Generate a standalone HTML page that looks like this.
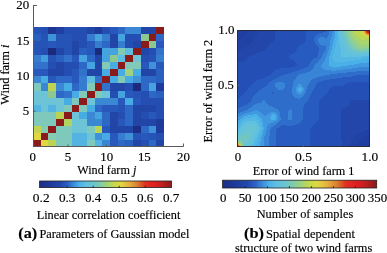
<!DOCTYPE html><html><head><meta charset="utf-8"><style>html,body{margin:0;padding:0;background:#fff;}body{width:387px;height:253px;overflow:hidden;}svg{display:block;}text{font-family:"Liberation Serif","Times New Roman",serif;fill:#000;stroke:#000;stroke-width:0.15px;}</style></head><body>
<svg width="387" height="253" viewBox="0 0 387 253">
<g shape-rendering="crispEdges">
<rect x="33.00" y="27.00" width="8.11" height="7.46" fill="#2653b6"/>
<rect x="40.71" y="27.00" width="8.11" height="7.46" fill="#244eb2"/>
<rect x="48.41" y="27.00" width="8.11" height="7.46" fill="#1d3591"/>
<rect x="56.12" y="27.00" width="8.11" height="7.46" fill="#1f40a2"/>
<rect x="63.82" y="27.00" width="8.11" height="7.46" fill="#244eb2"/>
<rect x="71.53" y="27.00" width="8.11" height="7.46" fill="#244eb2"/>
<rect x="79.24" y="27.00" width="8.11" height="7.46" fill="#244eb2"/>
<rect x="86.94" y="27.00" width="8.11" height="7.46" fill="#2146a8"/>
<rect x="94.65" y="27.00" width="8.11" height="7.46" fill="#1e3a9c"/>
<rect x="102.35" y="27.00" width="8.11" height="7.46" fill="#244eb2"/>
<rect x="110.06" y="27.00" width="8.11" height="7.46" fill="#2858bb"/>
<rect x="117.76" y="27.00" width="8.11" height="7.46" fill="#2d68c6"/>
<rect x="125.47" y="27.00" width="8.11" height="7.46" fill="#3a87d4"/>
<rect x="133.18" y="27.00" width="8.11" height="7.46" fill="#3a87d4"/>
<rect x="140.88" y="27.00" width="8.11" height="7.46" fill="#2146a8"/>
<rect x="148.59" y="27.00" width="8.11" height="7.46" fill="#2146a8"/>
<rect x="156.29" y="27.00" width="8.11" height="7.46" fill="#8b1a1a"/>
<rect x="33.00" y="34.06" width="8.11" height="7.46" fill="#2a60c0"/>
<rect x="40.71" y="34.06" width="8.11" height="7.46" fill="#2653b6"/>
<rect x="48.41" y="34.06" width="8.11" height="7.46" fill="#3f92d8"/>
<rect x="56.12" y="34.06" width="8.11" height="7.46" fill="#2653b6"/>
<rect x="63.82" y="34.06" width="8.11" height="7.46" fill="#2653b6"/>
<rect x="71.53" y="34.06" width="8.11" height="7.46" fill="#244eb2"/>
<rect x="79.24" y="34.06" width="8.11" height="7.46" fill="#244eb2"/>
<rect x="86.94" y="34.06" width="8.11" height="7.46" fill="#367ccf"/>
<rect x="94.65" y="34.06" width="8.11" height="7.46" fill="#45a3e0"/>
<rect x="102.35" y="34.06" width="8.11" height="7.46" fill="#367ccf"/>
<rect x="110.06" y="34.06" width="8.11" height="7.46" fill="#2146a8"/>
<rect x="117.76" y="34.06" width="8.11" height="7.46" fill="#45a3e0"/>
<rect x="125.47" y="34.06" width="8.11" height="7.46" fill="#244eb2"/>
<rect x="133.18" y="34.06" width="8.11" height="7.46" fill="#244eb2"/>
<rect x="140.88" y="34.06" width="8.11" height="7.46" fill="#8cc890"/>
<rect x="148.59" y="34.06" width="8.11" height="7.46" fill="#8b1a1a"/>
<rect x="156.29" y="34.06" width="8.11" height="7.46" fill="#2d68c6"/>
<rect x="33.00" y="41.12" width="8.11" height="7.46" fill="#2653b6"/>
<rect x="40.71" y="41.12" width="8.11" height="7.46" fill="#2653b6"/>
<rect x="48.41" y="41.12" width="8.11" height="7.46" fill="#2858bb"/>
<rect x="56.12" y="41.12" width="8.11" height="7.46" fill="#2653b6"/>
<rect x="63.82" y="41.12" width="8.11" height="7.46" fill="#2653b6"/>
<rect x="71.53" y="41.12" width="8.11" height="7.46" fill="#2146a8"/>
<rect x="79.24" y="41.12" width="8.11" height="7.46" fill="#244eb2"/>
<rect x="86.94" y="41.12" width="8.11" height="7.46" fill="#2858bb"/>
<rect x="94.65" y="41.12" width="8.11" height="7.46" fill="#367ccf"/>
<rect x="102.35" y="41.12" width="8.11" height="7.46" fill="#2d68c6"/>
<rect x="110.06" y="41.12" width="8.11" height="7.46" fill="#2146a8"/>
<rect x="117.76" y="41.12" width="8.11" height="7.46" fill="#367ccf"/>
<rect x="125.47" y="41.12" width="8.11" height="7.46" fill="#244eb2"/>
<rect x="133.18" y="41.12" width="8.11" height="7.46" fill="#2146a8"/>
<rect x="140.88" y="41.12" width="8.11" height="7.46" fill="#8b1a1a"/>
<rect x="148.59" y="41.12" width="8.11" height="7.46" fill="#8cc890"/>
<rect x="156.29" y="41.12" width="8.11" height="7.46" fill="#2858bb"/>
<rect x="33.00" y="48.18" width="8.11" height="7.46" fill="#2653b6"/>
<rect x="40.71" y="48.18" width="8.11" height="7.46" fill="#244eb2"/>
<rect x="48.41" y="48.18" width="8.11" height="7.46" fill="#1a2a7c"/>
<rect x="56.12" y="48.18" width="8.11" height="7.46" fill="#2146a8"/>
<rect x="63.82" y="48.18" width="8.11" height="7.46" fill="#2653b6"/>
<rect x="71.53" y="48.18" width="8.11" height="7.46" fill="#2146a8"/>
<rect x="79.24" y="48.18" width="8.11" height="7.46" fill="#2a60c0"/>
<rect x="86.94" y="48.18" width="8.11" height="7.46" fill="#2858bb"/>
<rect x="94.65" y="48.18" width="8.11" height="7.46" fill="#1a2a7c"/>
<rect x="102.35" y="48.18" width="8.11" height="7.46" fill="#45a3e0"/>
<rect x="110.06" y="48.18" width="8.11" height="7.46" fill="#45a3e0"/>
<rect x="117.76" y="48.18" width="8.11" height="7.46" fill="#82cab6"/>
<rect x="125.47" y="48.18" width="8.11" height="7.46" fill="#5ebcde"/>
<rect x="133.18" y="48.18" width="8.11" height="7.46" fill="#8b1a1a"/>
<rect x="140.88" y="48.18" width="8.11" height="7.46" fill="#2146a8"/>
<rect x="148.59" y="48.18" width="8.11" height="7.46" fill="#244eb2"/>
<rect x="156.29" y="48.18" width="8.11" height="7.46" fill="#3272ca"/>
<rect x="33.00" y="55.24" width="8.11" height="7.46" fill="#367ccf"/>
<rect x="40.71" y="55.24" width="8.11" height="7.46" fill="#429bdc"/>
<rect x="48.41" y="55.24" width="8.11" height="7.46" fill="#2653b6"/>
<rect x="56.12" y="55.24" width="8.11" height="7.46" fill="#2a60c0"/>
<rect x="63.82" y="55.24" width="8.11" height="7.46" fill="#3272ca"/>
<rect x="71.53" y="55.24" width="8.11" height="7.46" fill="#2858bb"/>
<rect x="79.24" y="55.24" width="8.11" height="7.46" fill="#45a3e0"/>
<rect x="86.94" y="55.24" width="8.11" height="7.46" fill="#2d68c6"/>
<rect x="94.65" y="55.24" width="8.11" height="7.46" fill="#2146a8"/>
<rect x="102.35" y="55.24" width="8.11" height="7.46" fill="#45a3e0"/>
<rect x="110.06" y="55.24" width="8.11" height="7.46" fill="#8cc890"/>
<rect x="117.76" y="55.24" width="8.11" height="7.46" fill="#5ebcde"/>
<rect x="125.47" y="55.24" width="8.11" height="7.46" fill="#8b1a1a"/>
<rect x="133.18" y="55.24" width="8.11" height="7.46" fill="#6cc4d6"/>
<rect x="140.88" y="55.24" width="8.11" height="7.46" fill="#244eb2"/>
<rect x="148.59" y="55.24" width="8.11" height="7.46" fill="#2653b6"/>
<rect x="156.29" y="55.24" width="8.11" height="7.46" fill="#367ccf"/>
<rect x="33.00" y="62.29" width="8.11" height="7.46" fill="#3272ca"/>
<rect x="40.71" y="62.29" width="8.11" height="7.46" fill="#3272ca"/>
<rect x="48.41" y="62.29" width="8.11" height="7.46" fill="#244eb2"/>
<rect x="56.12" y="62.29" width="8.11" height="7.46" fill="#2146a8"/>
<rect x="63.82" y="62.29" width="8.11" height="7.46" fill="#244eb2"/>
<rect x="71.53" y="62.29" width="8.11" height="7.46" fill="#244eb2"/>
<rect x="79.24" y="62.29" width="8.11" height="7.46" fill="#2d68c6"/>
<rect x="86.94" y="62.29" width="8.11" height="7.46" fill="#45a3e0"/>
<rect x="94.65" y="62.29" width="8.11" height="7.46" fill="#2146a8"/>
<rect x="102.35" y="62.29" width="8.11" height="7.46" fill="#82cab6"/>
<rect x="110.06" y="62.29" width="8.11" height="7.46" fill="#48ace4"/>
<rect x="117.76" y="62.29" width="8.11" height="7.46" fill="#8b1a1a"/>
<rect x="125.47" y="62.29" width="8.11" height="7.46" fill="#7ec8bc"/>
<rect x="133.18" y="62.29" width="8.11" height="7.46" fill="#82cab6"/>
<rect x="140.88" y="62.29" width="8.11" height="7.46" fill="#2858bb"/>
<rect x="148.59" y="62.29" width="8.11" height="7.46" fill="#3f92d8"/>
<rect x="156.29" y="62.29" width="8.11" height="7.46" fill="#2858bb"/>
<rect x="33.00" y="69.35" width="8.11" height="7.46" fill="#2858bb"/>
<rect x="40.71" y="69.35" width="8.11" height="7.46" fill="#2858bb"/>
<rect x="48.41" y="69.35" width="8.11" height="7.46" fill="#2146a8"/>
<rect x="56.12" y="69.35" width="8.11" height="7.46" fill="#2146a8"/>
<rect x="63.82" y="69.35" width="8.11" height="7.46" fill="#244eb2"/>
<rect x="71.53" y="69.35" width="8.11" height="7.46" fill="#2858bb"/>
<rect x="79.24" y="69.35" width="8.11" height="7.46" fill="#3272ca"/>
<rect x="86.94" y="69.35" width="8.11" height="7.46" fill="#2146a8"/>
<rect x="94.65" y="69.35" width="8.11" height="7.46" fill="#2146a8"/>
<rect x="102.35" y="69.35" width="8.11" height="7.46" fill="#48ace4"/>
<rect x="110.06" y="69.35" width="8.11" height="7.46" fill="#8b1a1a"/>
<rect x="117.76" y="69.35" width="8.11" height="7.46" fill="#48ace4"/>
<rect x="125.47" y="69.35" width="8.11" height="7.46" fill="#a0d080"/>
<rect x="133.18" y="69.35" width="8.11" height="7.46" fill="#48ace4"/>
<rect x="140.88" y="69.35" width="8.11" height="7.46" fill="#2146a8"/>
<rect x="148.59" y="69.35" width="8.11" height="7.46" fill="#2146a8"/>
<rect x="156.29" y="69.35" width="8.11" height="7.46" fill="#2a60c0"/>
<rect x="33.00" y="76.41" width="8.11" height="7.46" fill="#3a87d4"/>
<rect x="40.71" y="76.41" width="8.11" height="7.46" fill="#48ace4"/>
<rect x="48.41" y="76.41" width="8.11" height="7.46" fill="#2858bb"/>
<rect x="56.12" y="76.41" width="8.11" height="7.46" fill="#2d68c6"/>
<rect x="63.82" y="76.41" width="8.11" height="7.46" fill="#2d68c6"/>
<rect x="71.53" y="76.41" width="8.11" height="7.46" fill="#2858bb"/>
<rect x="79.24" y="76.41" width="8.11" height="7.46" fill="#367ccf"/>
<rect x="86.94" y="76.41" width="8.11" height="7.46" fill="#5ebcde"/>
<rect x="94.65" y="76.41" width="8.11" height="7.46" fill="#3272ca"/>
<rect x="102.35" y="76.41" width="8.11" height="7.46" fill="#8b1a1a"/>
<rect x="110.06" y="76.41" width="8.11" height="7.46" fill="#48ace4"/>
<rect x="117.76" y="76.41" width="8.11" height="7.46" fill="#82cab6"/>
<rect x="125.47" y="76.41" width="8.11" height="7.46" fill="#48ace4"/>
<rect x="133.18" y="76.41" width="8.11" height="7.46" fill="#3f92d8"/>
<rect x="140.88" y="76.41" width="8.11" height="7.46" fill="#2d68c6"/>
<rect x="148.59" y="76.41" width="8.11" height="7.46" fill="#2d68c6"/>
<rect x="156.29" y="76.41" width="8.11" height="7.46" fill="#2a60c0"/>
<rect x="33.00" y="83.47" width="8.11" height="7.46" fill="#7ec8bc"/>
<rect x="40.71" y="83.47" width="8.11" height="7.46" fill="#3a87d4"/>
<rect x="48.41" y="83.47" width="8.11" height="7.46" fill="#bdd451"/>
<rect x="56.12" y="83.47" width="8.11" height="7.46" fill="#3a87d4"/>
<rect x="63.82" y="83.47" width="8.11" height="7.46" fill="#48ace4"/>
<rect x="71.53" y="83.47" width="8.11" height="7.46" fill="#2d68c6"/>
<rect x="79.24" y="83.47" width="8.11" height="7.46" fill="#367ccf"/>
<rect x="86.94" y="83.47" width="8.11" height="7.46" fill="#82cab6"/>
<rect x="94.65" y="83.47" width="8.11" height="7.46" fill="#8b1a1a"/>
<rect x="102.35" y="83.47" width="8.11" height="7.46" fill="#3272ca"/>
<rect x="110.06" y="83.47" width="8.11" height="7.46" fill="#2146a8"/>
<rect x="117.76" y="83.47" width="8.11" height="7.46" fill="#2146a8"/>
<rect x="125.47" y="83.47" width="8.11" height="7.46" fill="#244eb2"/>
<rect x="133.18" y="83.47" width="8.11" height="7.46" fill="#1a2a7c"/>
<rect x="140.88" y="83.47" width="8.11" height="7.46" fill="#2d68c6"/>
<rect x="148.59" y="83.47" width="8.11" height="7.46" fill="#45a3e0"/>
<rect x="156.29" y="83.47" width="8.11" height="7.46" fill="#1e3a9c"/>
<rect x="33.00" y="90.53" width="8.11" height="7.46" fill="#6cc4d6"/>
<rect x="40.71" y="90.53" width="8.11" height="7.46" fill="#6cc4d6"/>
<rect x="48.41" y="90.53" width="8.11" height="7.46" fill="#8cc890"/>
<rect x="56.12" y="90.53" width="8.11" height="7.46" fill="#2d68c6"/>
<rect x="63.82" y="90.53" width="8.11" height="7.46" fill="#3272ca"/>
<rect x="71.53" y="90.53" width="8.11" height="7.46" fill="#48ace4"/>
<rect x="79.24" y="90.53" width="8.11" height="7.46" fill="#82cab6"/>
<rect x="86.94" y="90.53" width="8.11" height="7.46" fill="#8b1a1a"/>
<rect x="94.65" y="90.53" width="8.11" height="7.46" fill="#82cab6"/>
<rect x="102.35" y="90.53" width="8.11" height="7.46" fill="#6cc4d6"/>
<rect x="110.06" y="90.53" width="8.11" height="7.46" fill="#244eb2"/>
<rect x="117.76" y="90.53" width="8.11" height="7.46" fill="#45a3e0"/>
<rect x="125.47" y="90.53" width="8.11" height="7.46" fill="#2858bb"/>
<rect x="133.18" y="90.53" width="8.11" height="7.46" fill="#2653b6"/>
<rect x="140.88" y="90.53" width="8.11" height="7.46" fill="#244eb2"/>
<rect x="148.59" y="90.53" width="8.11" height="7.46" fill="#2d68c6"/>
<rect x="156.29" y="90.53" width="8.11" height="7.46" fill="#2a60c0"/>
<rect x="33.00" y="97.59" width="8.11" height="7.46" fill="#6cc4d6"/>
<rect x="40.71" y="97.59" width="8.11" height="7.46" fill="#6cc4d6"/>
<rect x="48.41" y="97.59" width="8.11" height="7.46" fill="#6cc4d6"/>
<rect x="56.12" y="97.59" width="8.11" height="7.46" fill="#6cc4d6"/>
<rect x="63.82" y="97.59" width="8.11" height="7.46" fill="#48ace4"/>
<rect x="71.53" y="97.59" width="8.11" height="7.46" fill="#7ec8bc"/>
<rect x="79.24" y="97.59" width="8.11" height="7.46" fill="#8b1a1a"/>
<rect x="86.94" y="97.59" width="8.11" height="7.46" fill="#6cc4d6"/>
<rect x="94.65" y="97.59" width="8.11" height="7.46" fill="#3a87d4"/>
<rect x="102.35" y="97.59" width="8.11" height="7.46" fill="#3a87d4"/>
<rect x="110.06" y="97.59" width="8.11" height="7.46" fill="#3a87d4"/>
<rect x="117.76" y="97.59" width="8.11" height="7.46" fill="#2858bb"/>
<rect x="125.47" y="97.59" width="8.11" height="7.46" fill="#48ace4"/>
<rect x="133.18" y="97.59" width="8.11" height="7.46" fill="#2858bb"/>
<rect x="140.88" y="97.59" width="8.11" height="7.46" fill="#244eb2"/>
<rect x="148.59" y="97.59" width="8.11" height="7.46" fill="#244eb2"/>
<rect x="156.29" y="97.59" width="8.11" height="7.46" fill="#244eb2"/>
<rect x="33.00" y="104.65" width="8.11" height="7.46" fill="#53b4e1"/>
<rect x="40.71" y="104.65" width="8.11" height="7.46" fill="#6cc4d6"/>
<rect x="48.41" y="104.65" width="8.11" height="7.46" fill="#53b4e1"/>
<rect x="56.12" y="104.65" width="8.11" height="7.46" fill="#6cc4d6"/>
<rect x="63.82" y="104.65" width="8.11" height="7.46" fill="#7ec8bc"/>
<rect x="71.53" y="104.65" width="8.11" height="7.46" fill="#8b1a1a"/>
<rect x="79.24" y="104.65" width="8.11" height="7.46" fill="#7ec8bc"/>
<rect x="86.94" y="104.65" width="8.11" height="7.46" fill="#48ace4"/>
<rect x="94.65" y="104.65" width="8.11" height="7.46" fill="#2d68c6"/>
<rect x="102.35" y="104.65" width="8.11" height="7.46" fill="#2858bb"/>
<rect x="110.06" y="104.65" width="8.11" height="7.46" fill="#2858bb"/>
<rect x="117.76" y="104.65" width="8.11" height="7.46" fill="#2653b6"/>
<rect x="125.47" y="104.65" width="8.11" height="7.46" fill="#2d68c6"/>
<rect x="133.18" y="104.65" width="8.11" height="7.46" fill="#2146a8"/>
<rect x="140.88" y="104.65" width="8.11" height="7.46" fill="#2146a8"/>
<rect x="148.59" y="104.65" width="8.11" height="7.46" fill="#2146a8"/>
<rect x="156.29" y="104.65" width="8.11" height="7.46" fill="#244eb2"/>
<rect x="33.00" y="111.71" width="8.11" height="7.46" fill="#7ec8bc"/>
<rect x="40.71" y="111.71" width="8.11" height="7.46" fill="#7ec8bc"/>
<rect x="48.41" y="111.71" width="8.11" height="7.46" fill="#7ec8bc"/>
<rect x="56.12" y="111.71" width="8.11" height="7.46" fill="#b8d450"/>
<rect x="63.82" y="111.71" width="8.11" height="7.46" fill="#8b1a1a"/>
<rect x="71.53" y="111.71" width="8.11" height="7.46" fill="#6cc4d6"/>
<rect x="79.24" y="111.71" width="8.11" height="7.46" fill="#48ace4"/>
<rect x="86.94" y="111.71" width="8.11" height="7.46" fill="#3a87d4"/>
<rect x="94.65" y="111.71" width="8.11" height="7.46" fill="#45a3e0"/>
<rect x="102.35" y="111.71" width="8.11" height="7.46" fill="#2d68c6"/>
<rect x="110.06" y="111.71" width="8.11" height="7.46" fill="#2146a8"/>
<rect x="117.76" y="111.71" width="8.11" height="7.46" fill="#244eb2"/>
<rect x="125.47" y="111.71" width="8.11" height="7.46" fill="#2d68c6"/>
<rect x="133.18" y="111.71" width="8.11" height="7.46" fill="#2146a8"/>
<rect x="140.88" y="111.71" width="8.11" height="7.46" fill="#244eb2"/>
<rect x="148.59" y="111.71" width="8.11" height="7.46" fill="#2858bb"/>
<rect x="156.29" y="111.71" width="8.11" height="7.46" fill="#244eb2"/>
<rect x="33.00" y="118.76" width="8.11" height="7.46" fill="#7ec8bc"/>
<rect x="40.71" y="118.76" width="8.11" height="7.46" fill="#7ec8bc"/>
<rect x="48.41" y="118.76" width="8.11" height="7.46" fill="#7ec8bc"/>
<rect x="56.12" y="118.76" width="8.11" height="7.46" fill="#8b1a1a"/>
<rect x="63.82" y="118.76" width="8.11" height="7.46" fill="#b0d360"/>
<rect x="71.53" y="118.76" width="8.11" height="7.46" fill="#6cc4d6"/>
<rect x="79.24" y="118.76" width="8.11" height="7.46" fill="#6cc4d6"/>
<rect x="86.94" y="118.76" width="8.11" height="7.46" fill="#3a87d4"/>
<rect x="94.65" y="118.76" width="8.11" height="7.46" fill="#3a87d4"/>
<rect x="102.35" y="118.76" width="8.11" height="7.46" fill="#2d68c6"/>
<rect x="110.06" y="118.76" width="8.11" height="7.46" fill="#2146a8"/>
<rect x="117.76" y="118.76" width="8.11" height="7.46" fill="#2858bb"/>
<rect x="125.47" y="118.76" width="8.11" height="7.46" fill="#2d68c6"/>
<rect x="133.18" y="118.76" width="8.11" height="7.46" fill="#2146a8"/>
<rect x="140.88" y="118.76" width="8.11" height="7.46" fill="#2146a8"/>
<rect x="148.59" y="118.76" width="8.11" height="7.46" fill="#2146a8"/>
<rect x="156.29" y="118.76" width="8.11" height="7.46" fill="#1e3a9c"/>
<rect x="33.00" y="125.82" width="8.11" height="7.46" fill="#c2d452"/>
<rect x="40.71" y="125.82" width="8.11" height="7.46" fill="#86ccb0"/>
<rect x="48.41" y="125.82" width="8.11" height="7.46" fill="#8b1a1a"/>
<rect x="56.12" y="125.82" width="8.11" height="7.46" fill="#7ec8bc"/>
<rect x="63.82" y="125.82" width="8.11" height="7.46" fill="#7ec8bc"/>
<rect x="71.53" y="125.82" width="8.11" height="7.46" fill="#6cc4d6"/>
<rect x="79.24" y="125.82" width="8.11" height="7.46" fill="#6cc4d6"/>
<rect x="86.94" y="125.82" width="8.11" height="7.46" fill="#7ec8bc"/>
<rect x="94.65" y="125.82" width="8.11" height="7.46" fill="#bdd451"/>
<rect x="102.35" y="125.82" width="8.11" height="7.46" fill="#2858bb"/>
<rect x="110.06" y="125.82" width="8.11" height="7.46" fill="#2146a8"/>
<rect x="117.76" y="125.82" width="8.11" height="7.46" fill="#2146a8"/>
<rect x="125.47" y="125.82" width="8.11" height="7.46" fill="#2146a8"/>
<rect x="133.18" y="125.82" width="8.11" height="7.46" fill="#1b2f87"/>
<rect x="140.88" y="125.82" width="8.11" height="7.46" fill="#2d68c6"/>
<rect x="148.59" y="125.82" width="8.11" height="7.46" fill="#3f92d8"/>
<rect x="156.29" y="125.82" width="8.11" height="7.46" fill="#1e3a9c"/>
<rect x="33.00" y="132.88" width="8.11" height="7.46" fill="#e0d840"/>
<rect x="40.71" y="132.88" width="8.11" height="7.46" fill="#8b1a1a"/>
<rect x="48.41" y="132.88" width="8.11" height="7.46" fill="#86ccb0"/>
<rect x="56.12" y="132.88" width="8.11" height="7.46" fill="#7ec8bc"/>
<rect x="63.82" y="132.88" width="8.11" height="7.46" fill="#7ec8bc"/>
<rect x="71.53" y="132.88" width="8.11" height="7.46" fill="#53b4e1"/>
<rect x="79.24" y="132.88" width="8.11" height="7.46" fill="#53b4e1"/>
<rect x="86.94" y="132.88" width="8.11" height="7.46" fill="#6cc4d6"/>
<rect x="94.65" y="132.88" width="8.11" height="7.46" fill="#3f92d8"/>
<rect x="102.35" y="132.88" width="8.11" height="7.46" fill="#48ace4"/>
<rect x="110.06" y="132.88" width="8.11" height="7.46" fill="#2858bb"/>
<rect x="117.76" y="132.88" width="8.11" height="7.46" fill="#367ccf"/>
<rect x="125.47" y="132.88" width="8.11" height="7.46" fill="#3f92d8"/>
<rect x="133.18" y="132.88" width="8.11" height="7.46" fill="#2653b6"/>
<rect x="140.88" y="132.88" width="8.11" height="7.46" fill="#2858bb"/>
<rect x="148.59" y="132.88" width="8.11" height="7.46" fill="#2653b6"/>
<rect x="156.29" y="132.88" width="8.11" height="7.46" fill="#244eb2"/>
<rect x="33.00" y="139.94" width="8.11" height="7.46" fill="#8b1a1a"/>
<rect x="40.71" y="139.94" width="8.11" height="7.46" fill="#e0d840"/>
<rect x="48.41" y="139.94" width="8.11" height="7.46" fill="#bdd451"/>
<rect x="56.12" y="139.94" width="8.11" height="7.46" fill="#7ec8bc"/>
<rect x="63.82" y="139.94" width="8.11" height="7.46" fill="#7ec8bc"/>
<rect x="71.53" y="139.94" width="8.11" height="7.46" fill="#53b4e1"/>
<rect x="79.24" y="139.94" width="8.11" height="7.46" fill="#53b4e1"/>
<rect x="86.94" y="139.94" width="8.11" height="7.46" fill="#7ec8bc"/>
<rect x="94.65" y="139.94" width="8.11" height="7.46" fill="#53b4e1"/>
<rect x="102.35" y="139.94" width="8.11" height="7.46" fill="#3a87d4"/>
<rect x="110.06" y="139.94" width="8.11" height="7.46" fill="#2858bb"/>
<rect x="117.76" y="139.94" width="8.11" height="7.46" fill="#2d68c6"/>
<rect x="125.47" y="139.94" width="8.11" height="7.46" fill="#2a60c0"/>
<rect x="133.18" y="139.94" width="8.11" height="7.46" fill="#2146a8"/>
<rect x="140.88" y="139.94" width="8.11" height="7.46" fill="#244eb2"/>
<rect x="148.59" y="139.94" width="8.11" height="7.46" fill="#2d68c6"/>
<rect x="156.29" y="139.94" width="8.11" height="7.46" fill="#2146a8"/>
</g>
<path d="M33.5 5V146.5H183.5" fill="none" stroke="#5a5a5a" stroke-width="1"/>
<path d="M33.5 5.5H37 M183.5 146.5V143.5 M68 146.5V144.5 M106.5 146.5V144.5 M145 146.5V144.5 M33.5 40.5H35.5 M33.5 75.8H35.5 M33.5 111.4H35.5" fill="none" stroke="#5a5a5a" stroke-width="1"/>
<text x="16.27" y="9.00" font-size="12.9">20</text>
<text x="16.58" y="44.50" font-size="12.9">15</text>
<text x="16.58" y="80.00" font-size="12.9">10</text>
<text x="22.75" y="114.90" font-size="12.9">5</text>
<text x="29.52" y="160.80" font-size="12.9">0</text>
<text x="64.80" y="160.80" font-size="12.9">5</text>
<text x="100.33" y="160.80" font-size="12.9">10</text>
<text x="137.88" y="160.80" font-size="12.9">15</text>
<text x="176.97" y="160.80" font-size="12.9">20</text>
<text x="77.20" y="174.00" font-size="12.9" textLength="59.17" lengthAdjust="spacingAndGlyphs">Wind farm <tspan font-style="italic">j</tspan></text>
<text transform="translate(9.00,104.70) rotate(-90)" font-size="12.9" textLength="60.10" lengthAdjust="spacingAndGlyphs">Wind farm <tspan font-style="italic">i</tspan></text>
<defs><linearGradient id="cbg" x1="0" y1="0" x2="1" y2="0"><stop offset="0.000" stop-color="#1c2f85"/><stop offset="0.080" stop-color="#1f3a9c"/><stop offset="0.160" stop-color="#2248ac"/><stop offset="0.210" stop-color="#2a60c5"/><stop offset="0.255" stop-color="#3a88d8"/><stop offset="0.300" stop-color="#4ab0e8"/><stop offset="0.350" stop-color="#60c0e0"/><stop offset="0.400" stop-color="#68c4d4"/><stop offset="0.440" stop-color="#78c8b8"/><stop offset="0.490" stop-color="#90d090"/><stop offset="0.553" stop-color="#c0d850"/><stop offset="0.616" stop-color="#e0d840"/><stop offset="0.678" stop-color="#e8b040"/><stop offset="0.740" stop-color="#d88030"/><stop offset="0.800" stop-color="#e03020"/><stop offset="0.867" stop-color="#e02020"/><stop offset="0.928" stop-color="#c02020"/><stop offset="1.000" stop-color="#8a1818"/></linearGradient></defs>
<rect x="39.6" y="181.0" width="131.9" height="6.6" fill="url(#cbg)"/>
<rect x="39.6" y="181.0" width="131.9" height="6.6" fill="none" stroke="#222" stroke-width="0.8"/>
<path d="M67.2 187.6v-1.8" stroke="#222" stroke-width="0.9"/>
<path d="M93.2 187.6v-1.8" stroke="#222" stroke-width="0.9"/>
<path d="M119.2 187.6v-1.8" stroke="#222" stroke-width="0.9"/>
<path d="M145.3 187.6v-1.8" stroke="#222" stroke-width="0.9"/>
<text x="32.86" y="201.70" font-size="12.9" textLength="16.77" lengthAdjust="spacingAndGlyphs">0.2</text>
<text x="58.90" y="201.70" font-size="12.9" textLength="16.56" lengthAdjust="spacingAndGlyphs">0.3</text>
<text x="84.94" y="201.70" font-size="12.9" textLength="16.21" lengthAdjust="spacingAndGlyphs">0.4</text>
<text x="110.96" y="201.70" font-size="12.9" textLength="16.56" lengthAdjust="spacingAndGlyphs">0.5</text>
<text x="136.99" y="201.70" font-size="12.9" textLength="16.42" lengthAdjust="spacingAndGlyphs">0.6</text>
<text x="163.02" y="201.70" font-size="12.9" textLength="16.42" lengthAdjust="spacingAndGlyphs">0.7</text>
<text x="36.63" y="218.50" font-size="12.9" textLength="143.76" lengthAdjust="spacingAndGlyphs">Linear correlation coefficient</text>
<text x="18.27" y="238.00" font-size="15.0" font-weight="bold" textLength="18.90" lengthAdjust="spacingAndGlyphs">(a)</text>
<text x="39.43" y="237.60" font-size="12.9" textLength="149.96" lengthAdjust="spacingAndGlyphs">Parameters of Gaussian model</text>
<svg x="237.5" y="30.4" width="131.5" height="116.6" viewBox="0 0 131.5 116.6" overflow="hidden"><g shape-rendering="crispEdges">
<rect x="0" y="0" width="10.3" height="1.3" fill="#203ea0"/>
<rect x="10" y="0" width="11.3" height="1.3" fill="#2142a5"/>
<rect x="21" y="0" width="16.3" height="1.3" fill="#2246aa"/>
<rect x="37" y="0" width="31.3" height="1.3" fill="#244fb4"/>
<rect x="68" y="0" width="20.3" height="1.3" fill="#285bc0"/>
<rect x="88" y="0" width="4.3" height="1.3" fill="#2f6dcb"/>
<rect x="92" y="0" width="3.3" height="1.3" fill="#3884d6"/>
<rect x="95" y="0" width="2.3" height="1.3" fill="#419adf"/>
<rect x="97" y="0" width="2.3" height="1.3" fill="#4ab0e8"/>
<rect x="99" y="0" width="1.3" height="1.3" fill="#55b8e4"/>
<rect x="100" y="0" width="1.3" height="1.3" fill="#60c0e0"/>
<rect x="101" y="0" width="2.3" height="1.3" fill="#64c2da"/>
<rect x="103" y="0" width="1.3" height="1.3" fill="#68c4d4"/>
<rect x="104" y="0" width="1.3" height="1.3" fill="#72c6c2"/>
<rect x="105" y="0" width="3.3" height="1.3" fill="#7dcab0"/>
<rect x="108" y="0" width="2.3" height="1.3" fill="#89ce9c"/>
<rect x="110" y="0" width="2.3" height="1.3" fill="#98d186"/>
<rect x="112" y="0" width="4.3" height="1.3" fill="#abd46c"/>
<rect x="116" y="0" width="4.3" height="1.3" fill="#bed853"/>
<rect x="120" y="0" width="4.3" height="1.3" fill="#cbd84a"/>
<rect x="124" y="0" width="4.3" height="1.3" fill="#d8d844"/>
<rect x="128" y="0" width="4.3" height="1.3" fill="#e1d240"/>
<rect x="0" y="1" width="9.3" height="1.3" fill="#203ea0"/>
<rect x="9" y="1" width="11.3" height="1.3" fill="#2142a5"/>
<rect x="20" y="1" width="17.3" height="1.3" fill="#2246aa"/>
<rect x="37" y="1" width="31.3" height="1.3" fill="#244fb4"/>
<rect x="68" y="1" width="20.3" height="1.3" fill="#285bc0"/>
<rect x="88" y="1" width="3.3" height="1.3" fill="#2f6dcb"/>
<rect x="91" y="1" width="4.3" height="1.3" fill="#3884d6"/>
<rect x="95" y="1" width="2.3" height="1.3" fill="#419adf"/>
<rect x="97" y="1" width="2.3" height="1.3" fill="#4ab0e8"/>
<rect x="99" y="1" width="1.3" height="1.3" fill="#55b8e4"/>
<rect x="100" y="1" width="1.3" height="1.3" fill="#60c0e0"/>
<rect x="101" y="1" width="2.3" height="1.3" fill="#64c2da"/>
<rect x="103" y="1" width="1.3" height="1.3" fill="#68c4d4"/>
<rect x="104" y="1" width="2.3" height="1.3" fill="#72c6c2"/>
<rect x="106" y="1" width="2.3" height="1.3" fill="#7dcab0"/>
<rect x="108" y="1" width="3.3" height="1.3" fill="#89ce9c"/>
<rect x="111" y="1" width="2.3" height="1.3" fill="#98d186"/>
<rect x="113" y="1" width="3.3" height="1.3" fill="#abd46c"/>
<rect x="116" y="1" width="5.3" height="1.3" fill="#bed853"/>
<rect x="121" y="1" width="4.3" height="1.3" fill="#cbd84a"/>
<rect x="125" y="1" width="5.3" height="1.3" fill="#d8d844"/>
<rect x="130" y="1" width="2.3" height="1.3" fill="#e1d240"/>
<rect x="0" y="2" width="9.3" height="1.3" fill="#203ea0"/>
<rect x="9" y="2" width="11.3" height="1.3" fill="#2142a5"/>
<rect x="20" y="2" width="17.3" height="1.3" fill="#2246aa"/>
<rect x="37" y="2" width="31.3" height="1.3" fill="#244fb4"/>
<rect x="68" y="2" width="17.3" height="1.3" fill="#285bc0"/>
<rect x="85" y="2" width="6.3" height="1.3" fill="#2f6dcb"/>
<rect x="91" y="2" width="4.3" height="1.3" fill="#3884d6"/>
<rect x="95" y="2" width="2.3" height="1.3" fill="#419adf"/>
<rect x="97" y="2" width="2.3" height="1.3" fill="#4ab0e8"/>
<rect x="99" y="2" width="1.3" height="1.3" fill="#55b8e4"/>
<rect x="100" y="2" width="2.3" height="1.3" fill="#60c0e0"/>
<rect x="102" y="2" width="1.3" height="1.3" fill="#64c2da"/>
<rect x="103" y="2" width="2.3" height="1.3" fill="#68c4d4"/>
<rect x="105" y="2" width="1.3" height="1.3" fill="#72c6c2"/>
<rect x="106" y="2" width="3.3" height="1.3" fill="#7dcab0"/>
<rect x="109" y="2" width="2.3" height="1.3" fill="#89ce9c"/>
<rect x="111" y="2" width="2.3" height="1.3" fill="#98d186"/>
<rect x="113" y="2" width="4.3" height="1.3" fill="#abd46c"/>
<rect x="117" y="2" width="5.3" height="1.3" fill="#bed853"/>
<rect x="122" y="2" width="4.3" height="1.3" fill="#cbd84a"/>
<rect x="126" y="2" width="6.3" height="1.3" fill="#d8d844"/>
<rect x="0" y="3" width="8.3" height="1.3" fill="#203ea0"/>
<rect x="8" y="3" width="11.3" height="1.3" fill="#2142a5"/>
<rect x="19" y="3" width="18.3" height="1.3" fill="#2246aa"/>
<rect x="37" y="3" width="31.3" height="1.3" fill="#244fb4"/>
<rect x="68" y="3" width="13.3" height="1.3" fill="#285bc0"/>
<rect x="81" y="3" width="10.3" height="1.3" fill="#2f6dcb"/>
<rect x="91" y="3" width="3.3" height="1.3" fill="#3884d6"/>
<rect x="94" y="3" width="3.3" height="1.3" fill="#419adf"/>
<rect x="97" y="3" width="2.3" height="1.3" fill="#4ab0e8"/>
<rect x="99" y="3" width="1.3" height="1.3" fill="#55b8e4"/>
<rect x="100" y="3" width="2.3" height="1.3" fill="#60c0e0"/>
<rect x="102" y="3" width="1.3" height="1.3" fill="#64c2da"/>
<rect x="103" y="3" width="2.3" height="1.3" fill="#68c4d4"/>
<rect x="105" y="3" width="2.3" height="1.3" fill="#72c6c2"/>
<rect x="107" y="3" width="2.3" height="1.3" fill="#7dcab0"/>
<rect x="109" y="3" width="2.3" height="1.3" fill="#89ce9c"/>
<rect x="111" y="3" width="2.3" height="1.3" fill="#98d186"/>
<rect x="113" y="3" width="5.3" height="1.3" fill="#abd46c"/>
<rect x="118" y="3" width="4.3" height="1.3" fill="#bed853"/>
<rect x="122" y="3" width="6.3" height="1.3" fill="#cbd84a"/>
<rect x="128" y="3" width="4.3" height="1.3" fill="#d8d844"/>
<rect x="0" y="4" width="7.3" height="1.3" fill="#203ea0"/>
<rect x="7" y="4" width="12.3" height="1.3" fill="#2142a5"/>
<rect x="19" y="4" width="18.3" height="1.3" fill="#2246aa"/>
<rect x="37" y="4" width="31.3" height="1.3" fill="#244fb4"/>
<rect x="68" y="4" width="11.3" height="1.3" fill="#285bc0"/>
<rect x="79" y="4" width="12.3" height="1.3" fill="#2f6dcb"/>
<rect x="91" y="4" width="3.3" height="1.3" fill="#3884d6"/>
<rect x="94" y="4" width="3.3" height="1.3" fill="#419adf"/>
<rect x="97" y="4" width="2.3" height="1.3" fill="#4ab0e8"/>
<rect x="99" y="4" width="1.3" height="1.3" fill="#55b8e4"/>
<rect x="100" y="4" width="2.3" height="1.3" fill="#60c0e0"/>
<rect x="102" y="4" width="2.3" height="1.3" fill="#64c2da"/>
<rect x="104" y="4" width="1.3" height="1.3" fill="#68c4d4"/>
<rect x="105" y="4" width="3.3" height="1.3" fill="#72c6c2"/>
<rect x="108" y="4" width="2.3" height="1.3" fill="#7dcab0"/>
<rect x="110" y="4" width="2.3" height="1.3" fill="#89ce9c"/>
<rect x="112" y="4" width="2.3" height="1.3" fill="#98d186"/>
<rect x="114" y="4" width="4.3" height="1.3" fill="#abd46c"/>
<rect x="118" y="4" width="5.3" height="1.3" fill="#bed853"/>
<rect x="123" y="4" width="8.3" height="1.3" fill="#cbd84a"/>
<rect x="131" y="4" width="1.3" height="1.3" fill="#d8d844"/>
<rect x="0" y="5" width="7.3" height="1.3" fill="#203ea0"/>
<rect x="7" y="5" width="11.3" height="1.3" fill="#2142a5"/>
<rect x="18" y="5" width="19.3" height="1.3" fill="#2246aa"/>
<rect x="37" y="5" width="31.3" height="1.3" fill="#244fb4"/>
<rect x="68" y="5" width="10.3" height="1.3" fill="#285bc0"/>
<rect x="78" y="5" width="12.3" height="1.3" fill="#2f6dcb"/>
<rect x="90" y="5" width="4.3" height="1.3" fill="#3884d6"/>
<rect x="94" y="5" width="3.3" height="1.3" fill="#419adf"/>
<rect x="97" y="5" width="2.3" height="1.3" fill="#4ab0e8"/>
<rect x="99" y="5" width="1.3" height="1.3" fill="#55b8e4"/>
<rect x="100" y="5" width="2.3" height="1.3" fill="#60c0e0"/>
<rect x="102" y="5" width="2.3" height="1.3" fill="#64c2da"/>
<rect x="104" y="5" width="2.3" height="1.3" fill="#68c4d4"/>
<rect x="106" y="5" width="2.3" height="1.3" fill="#72c6c2"/>
<rect x="108" y="5" width="2.3" height="1.3" fill="#7dcab0"/>
<rect x="110" y="5" width="2.3" height="1.3" fill="#89ce9c"/>
<rect x="112" y="5" width="2.3" height="1.3" fill="#98d186"/>
<rect x="114" y="5" width="5.3" height="1.3" fill="#abd46c"/>
<rect x="119" y="5" width="6.3" height="1.3" fill="#bed853"/>
<rect x="125" y="5" width="7.3" height="1.3" fill="#cbd84a"/>
<rect x="0" y="6" width="6.3" height="1.3" fill="#203ea0"/>
<rect x="6" y="6" width="12.3" height="1.3" fill="#2142a5"/>
<rect x="18" y="6" width="19.3" height="1.3" fill="#2246aa"/>
<rect x="37" y="6" width="31.3" height="1.3" fill="#244fb4"/>
<rect x="68" y="6" width="9.3" height="1.3" fill="#285bc0"/>
<rect x="77" y="6" width="13.3" height="1.3" fill="#2f6dcb"/>
<rect x="90" y="6" width="4.3" height="1.3" fill="#3884d6"/>
<rect x="94" y="6" width="3.3" height="1.3" fill="#419adf"/>
<rect x="97" y="6" width="2.3" height="1.3" fill="#4ab0e8"/>
<rect x="99" y="6" width="2.3" height="1.3" fill="#55b8e4"/>
<rect x="101" y="6" width="2.3" height="1.3" fill="#60c0e0"/>
<rect x="103" y="6" width="1.3" height="1.3" fill="#64c2da"/>
<rect x="104" y="6" width="2.3" height="1.3" fill="#68c4d4"/>
<rect x="106" y="6" width="2.3" height="1.3" fill="#72c6c2"/>
<rect x="108" y="6" width="2.3" height="1.3" fill="#7dcab0"/>
<rect x="110" y="6" width="2.3" height="1.3" fill="#89ce9c"/>
<rect x="112" y="6" width="3.3" height="1.3" fill="#98d186"/>
<rect x="115" y="6" width="5.3" height="1.3" fill="#abd46c"/>
<rect x="120" y="6" width="9.3" height="1.3" fill="#bed853"/>
<rect x="129" y="6" width="3.3" height="1.3" fill="#cbd84a"/>
<rect x="0" y="7" width="4.3" height="1.3" fill="#203ea0"/>
<rect x="4" y="7" width="13.3" height="1.3" fill="#2142a5"/>
<rect x="17" y="7" width="20.3" height="1.3" fill="#2246aa"/>
<rect x="37" y="7" width="31.3" height="1.3" fill="#244fb4"/>
<rect x="68" y="7" width="9.3" height="1.3" fill="#285bc0"/>
<rect x="77" y="7" width="5.3" height="1.3" fill="#2f6dcb"/>
<rect x="82" y="7" width="4.3" height="1.3" fill="#3884d6"/>
<rect x="86" y="7" width="3.3" height="1.3" fill="#2f6dcb"/>
<rect x="89" y="7" width="4.3" height="1.3" fill="#3884d6"/>
<rect x="93" y="7" width="4.3" height="1.3" fill="#419adf"/>
<rect x="97" y="7" width="2.3" height="1.3" fill="#4ab0e8"/>
<rect x="99" y="7" width="2.3" height="1.3" fill="#55b8e4"/>
<rect x="101" y="7" width="2.3" height="1.3" fill="#60c0e0"/>
<rect x="103" y="7" width="2.3" height="1.3" fill="#64c2da"/>
<rect x="105" y="7" width="2.3" height="1.3" fill="#68c4d4"/>
<rect x="107" y="7" width="2.3" height="1.3" fill="#72c6c2"/>
<rect x="109" y="7" width="2.3" height="1.3" fill="#7dcab0"/>
<rect x="111" y="7" width="2.3" height="1.3" fill="#89ce9c"/>
<rect x="113" y="7" width="3.3" height="1.3" fill="#98d186"/>
<rect x="116" y="7" width="5.3" height="1.3" fill="#abd46c"/>
<rect x="121" y="7" width="11.3" height="1.3" fill="#bed853"/>
<rect x="0" y="8" width="3.3" height="1.3" fill="#203ea0"/>
<rect x="3" y="8" width="14.3" height="1.3" fill="#2142a5"/>
<rect x="17" y="8" width="20.3" height="1.3" fill="#2246aa"/>
<rect x="37" y="8" width="31.3" height="1.3" fill="#244fb4"/>
<rect x="68" y="8" width="8.3" height="1.3" fill="#285bc0"/>
<rect x="76" y="8" width="4.3" height="1.3" fill="#2f6dcb"/>
<rect x="80" y="8" width="7.3" height="1.3" fill="#3884d6"/>
<rect x="87" y="8" width="1.3" height="1.3" fill="#2f6dcb"/>
<rect x="88" y="8" width="5.3" height="1.3" fill="#3884d6"/>
<rect x="93" y="8" width="3.3" height="1.3" fill="#419adf"/>
<rect x="96" y="8" width="3.3" height="1.3" fill="#4ab0e8"/>
<rect x="99" y="8" width="2.3" height="1.3" fill="#55b8e4"/>
<rect x="101" y="8" width="2.3" height="1.3" fill="#60c0e0"/>
<rect x="103" y="8" width="3.3" height="1.3" fill="#64c2da"/>
<rect x="106" y="8" width="1.3" height="1.3" fill="#68c4d4"/>
<rect x="107" y="8" width="2.3" height="1.3" fill="#72c6c2"/>
<rect x="109" y="8" width="2.3" height="1.3" fill="#7dcab0"/>
<rect x="111" y="8" width="2.3" height="1.3" fill="#89ce9c"/>
<rect x="113" y="8" width="3.3" height="1.3" fill="#98d186"/>
<rect x="116" y="8" width="6.3" height="1.3" fill="#abd46c"/>
<rect x="122" y="8" width="10.3" height="1.3" fill="#bed853"/>
<rect x="0" y="9" width="1.3" height="1.3" fill="#203ea0"/>
<rect x="1" y="9" width="15.3" height="1.3" fill="#2142a5"/>
<rect x="16" y="9" width="21.3" height="1.3" fill="#2246aa"/>
<rect x="37" y="9" width="31.3" height="1.3" fill="#244fb4"/>
<rect x="68" y="9" width="8.3" height="1.3" fill="#285bc0"/>
<rect x="76" y="9" width="4.3" height="1.3" fill="#2f6dcb"/>
<rect x="80" y="9" width="13.3" height="1.3" fill="#3884d6"/>
<rect x="93" y="9" width="3.3" height="1.3" fill="#419adf"/>
<rect x="96" y="9" width="3.3" height="1.3" fill="#4ab0e8"/>
<rect x="99" y="9" width="2.3" height="1.3" fill="#55b8e4"/>
<rect x="101" y="9" width="3.3" height="1.3" fill="#60c0e0"/>
<rect x="104" y="9" width="2.3" height="1.3" fill="#64c2da"/>
<rect x="106" y="9" width="2.3" height="1.3" fill="#68c4d4"/>
<rect x="108" y="9" width="2.3" height="1.3" fill="#72c6c2"/>
<rect x="110" y="9" width="1.3" height="1.3" fill="#7dcab0"/>
<rect x="111" y="9" width="2.3" height="1.3" fill="#89ce9c"/>
<rect x="113" y="9" width="4.3" height="1.3" fill="#98d186"/>
<rect x="117" y="9" width="6.3" height="1.3" fill="#abd46c"/>
<rect x="123" y="9" width="4.3" height="1.3" fill="#bed853"/>
<rect x="127" y="9" width="5.3" height="1.3" fill="#abd46c"/>
<rect x="0" y="10" width="16.3" height="1.3" fill="#2142a5"/>
<rect x="16" y="10" width="20.3" height="1.3" fill="#2246aa"/>
<rect x="36" y="10" width="32.3" height="1.3" fill="#244fb4"/>
<rect x="68" y="10" width="8.3" height="1.3" fill="#285bc0"/>
<rect x="76" y="10" width="4.3" height="1.3" fill="#2f6dcb"/>
<rect x="80" y="10" width="12.3" height="1.3" fill="#3884d6"/>
<rect x="92" y="10" width="4.3" height="1.3" fill="#419adf"/>
<rect x="96" y="10" width="3.3" height="1.3" fill="#4ab0e8"/>
<rect x="99" y="10" width="2.3" height="1.3" fill="#55b8e4"/>
<rect x="101" y="10" width="3.3" height="1.3" fill="#60c0e0"/>
<rect x="104" y="10" width="2.3" height="1.3" fill="#64c2da"/>
<rect x="106" y="10" width="2.3" height="1.3" fill="#68c4d4"/>
<rect x="108" y="10" width="2.3" height="1.3" fill="#72c6c2"/>
<rect x="110" y="10" width="2.3" height="1.3" fill="#7dcab0"/>
<rect x="112" y="10" width="2.3" height="1.3" fill="#89ce9c"/>
<rect x="114" y="10" width="5.3" height="1.3" fill="#98d186"/>
<rect x="119" y="10" width="13.3" height="1.3" fill="#abd46c"/>
<rect x="0" y="11" width="15.3" height="1.3" fill="#2142a5"/>
<rect x="15" y="11" width="20.3" height="1.3" fill="#2246aa"/>
<rect x="35" y="11" width="32.3" height="1.3" fill="#244fb4"/>
<rect x="67" y="11" width="10.3" height="1.3" fill="#285bc0"/>
<rect x="77" y="11" width="3.3" height="1.3" fill="#2f6dcb"/>
<rect x="80" y="11" width="12.3" height="1.3" fill="#3884d6"/>
<rect x="92" y="11" width="3.3" height="1.3" fill="#419adf"/>
<rect x="95" y="11" width="3.3" height="1.3" fill="#4ab0e8"/>
<rect x="98" y="11" width="3.3" height="1.3" fill="#55b8e4"/>
<rect x="101" y="11" width="3.3" height="1.3" fill="#60c0e0"/>
<rect x="104" y="11" width="2.3" height="1.3" fill="#64c2da"/>
<rect x="106" y="11" width="2.3" height="1.3" fill="#68c4d4"/>
<rect x="108" y="11" width="2.3" height="1.3" fill="#72c6c2"/>
<rect x="110" y="11" width="2.3" height="1.3" fill="#7dcab0"/>
<rect x="112" y="11" width="3.3" height="1.3" fill="#89ce9c"/>
<rect x="115" y="11" width="5.3" height="1.3" fill="#98d186"/>
<rect x="120" y="11" width="12.3" height="1.3" fill="#abd46c"/>
<rect x="0" y="12" width="14.3" height="1.3" fill="#2142a5"/>
<rect x="14" y="12" width="20.3" height="1.3" fill="#2246aa"/>
<rect x="34" y="12" width="33.3" height="1.3" fill="#244fb4"/>
<rect x="67" y="12" width="10.3" height="1.3" fill="#285bc0"/>
<rect x="77" y="12" width="4.3" height="1.3" fill="#2f6dcb"/>
<rect x="81" y="12" width="11.3" height="1.3" fill="#3884d6"/>
<rect x="92" y="12" width="3.3" height="1.3" fill="#419adf"/>
<rect x="95" y="12" width="3.3" height="1.3" fill="#4ab0e8"/>
<rect x="98" y="12" width="3.3" height="1.3" fill="#55b8e4"/>
<rect x="101" y="12" width="3.3" height="1.3" fill="#60c0e0"/>
<rect x="104" y="12" width="3.3" height="1.3" fill="#64c2da"/>
<rect x="107" y="12" width="2.3" height="1.3" fill="#68c4d4"/>
<rect x="109" y="12" width="2.3" height="1.3" fill="#72c6c2"/>
<rect x="111" y="12" width="2.3" height="1.3" fill="#7dcab0"/>
<rect x="113" y="12" width="3.3" height="1.3" fill="#89ce9c"/>
<rect x="116" y="12" width="5.3" height="1.3" fill="#98d186"/>
<rect x="121" y="12" width="11.3" height="1.3" fill="#abd46c"/>
<rect x="0" y="13" width="13.3" height="1.3" fill="#2142a5"/>
<rect x="13" y="13" width="20.3" height="1.3" fill="#2246aa"/>
<rect x="33" y="13" width="33.3" height="1.3" fill="#244fb4"/>
<rect x="66" y="13" width="11.3" height="1.3" fill="#285bc0"/>
<rect x="77" y="13" width="4.3" height="1.3" fill="#2f6dcb"/>
<rect x="81" y="13" width="11.3" height="1.3" fill="#3884d6"/>
<rect x="92" y="13" width="3.3" height="1.3" fill="#419adf"/>
<rect x="95" y="13" width="3.3" height="1.3" fill="#4ab0e8"/>
<rect x="98" y="13" width="4.3" height="1.3" fill="#55b8e4"/>
<rect x="102" y="13" width="3.3" height="1.3" fill="#60c0e0"/>
<rect x="105" y="13" width="2.3" height="1.3" fill="#64c2da"/>
<rect x="107" y="13" width="2.3" height="1.3" fill="#68c4d4"/>
<rect x="109" y="13" width="2.3" height="1.3" fill="#72c6c2"/>
<rect x="111" y="13" width="2.3" height="1.3" fill="#7dcab0"/>
<rect x="113" y="13" width="4.3" height="1.3" fill="#89ce9c"/>
<rect x="117" y="13" width="4.3" height="1.3" fill="#98d186"/>
<rect x="121" y="13" width="11.3" height="1.3" fill="#abd46c"/>
<rect x="0" y="14" width="12.3" height="1.3" fill="#2142a5"/>
<rect x="12" y="14" width="20.3" height="1.3" fill="#2246aa"/>
<rect x="32" y="14" width="32.3" height="1.3" fill="#244fb4"/>
<rect x="64" y="14" width="14.3" height="1.3" fill="#285bc0"/>
<rect x="78" y="14" width="4.3" height="1.3" fill="#2f6dcb"/>
<rect x="82" y="14" width="10.3" height="1.3" fill="#3884d6"/>
<rect x="92" y="14" width="3.3" height="1.3" fill="#419adf"/>
<rect x="95" y="14" width="3.3" height="1.3" fill="#4ab0e8"/>
<rect x="98" y="14" width="4.3" height="1.3" fill="#55b8e4"/>
<rect x="102" y="14" width="3.3" height="1.3" fill="#60c0e0"/>
<rect x="105" y="14" width="2.3" height="1.3" fill="#64c2da"/>
<rect x="107" y="14" width="3.3" height="1.3" fill="#68c4d4"/>
<rect x="110" y="14" width="2.3" height="1.3" fill="#72c6c2"/>
<rect x="112" y="14" width="2.3" height="1.3" fill="#7dcab0"/>
<rect x="114" y="14" width="4.3" height="1.3" fill="#89ce9c"/>
<rect x="118" y="14" width="4.3" height="1.3" fill="#98d186"/>
<rect x="122" y="14" width="5.3" height="1.3" fill="#abd46c"/>
<rect x="127" y="14" width="5.3" height="1.3" fill="#98d186"/>
<rect x="0" y="15" width="11.3" height="1.3" fill="#2142a5"/>
<rect x="11" y="15" width="20.3" height="1.3" fill="#2246aa"/>
<rect x="31" y="15" width="31.3" height="1.3" fill="#244fb4"/>
<rect x="62" y="15" width="17.3" height="1.3" fill="#285bc0"/>
<rect x="79" y="15" width="6.3" height="1.3" fill="#2f6dcb"/>
<rect x="85" y="15" width="2.3" height="1.3" fill="#3884d6"/>
<rect x="87" y="15" width="1.3" height="1.3" fill="#2f6dcb"/>
<rect x="88" y="15" width="4.3" height="1.3" fill="#3884d6"/>
<rect x="92" y="15" width="3.3" height="1.3" fill="#419adf"/>
<rect x="95" y="15" width="3.3" height="1.3" fill="#4ab0e8"/>
<rect x="98" y="15" width="4.3" height="1.3" fill="#55b8e4"/>
<rect x="102" y="15" width="4.3" height="1.3" fill="#60c0e0"/>
<rect x="106" y="15" width="2.3" height="1.3" fill="#64c2da"/>
<rect x="108" y="15" width="2.3" height="1.3" fill="#68c4d4"/>
<rect x="110" y="15" width="2.3" height="1.3" fill="#72c6c2"/>
<rect x="112" y="15" width="3.3" height="1.3" fill="#7dcab0"/>
<rect x="115" y="15" width="4.3" height="1.3" fill="#89ce9c"/>
<rect x="119" y="15" width="13.3" height="1.3" fill="#98d186"/>
<rect x="0" y="16" width="9.3" height="1.3" fill="#2142a5"/>
<rect x="9" y="16" width="21.3" height="1.3" fill="#2246aa"/>
<rect x="30" y="16" width="30.3" height="1.3" fill="#244fb4"/>
<rect x="60" y="16" width="20.3" height="1.3" fill="#285bc0"/>
<rect x="80" y="16" width="8.3" height="1.3" fill="#2f6dcb"/>
<rect x="88" y="16" width="3.3" height="1.3" fill="#3884d6"/>
<rect x="91" y="16" width="3.3" height="1.3" fill="#419adf"/>
<rect x="94" y="16" width="4.3" height="1.3" fill="#4ab0e8"/>
<rect x="98" y="16" width="4.3" height="1.3" fill="#55b8e4"/>
<rect x="102" y="16" width="4.3" height="1.3" fill="#60c0e0"/>
<rect x="106" y="16" width="2.3" height="1.3" fill="#64c2da"/>
<rect x="108" y="16" width="3.3" height="1.3" fill="#68c4d4"/>
<rect x="111" y="16" width="2.3" height="1.3" fill="#72c6c2"/>
<rect x="113" y="16" width="3.3" height="1.3" fill="#7dcab0"/>
<rect x="116" y="16" width="4.3" height="1.3" fill="#89ce9c"/>
<rect x="120" y="16" width="12.3" height="1.3" fill="#98d186"/>
<rect x="0" y="17" width="7.3" height="1.3" fill="#2142a5"/>
<rect x="7" y="17" width="22.3" height="1.3" fill="#2246aa"/>
<rect x="29" y="17" width="31.3" height="1.3" fill="#244fb4"/>
<rect x="60" y="17" width="21.3" height="1.3" fill="#285bc0"/>
<rect x="81" y="17" width="7.3" height="1.3" fill="#2f6dcb"/>
<rect x="88" y="17" width="3.3" height="1.3" fill="#3884d6"/>
<rect x="91" y="17" width="3.3" height="1.3" fill="#419adf"/>
<rect x="94" y="17" width="3.3" height="1.3" fill="#4ab0e8"/>
<rect x="97" y="17" width="5.3" height="1.3" fill="#55b8e4"/>
<rect x="102" y="17" width="4.3" height="1.3" fill="#60c0e0"/>
<rect x="106" y="17" width="3.3" height="1.3" fill="#64c2da"/>
<rect x="109" y="17" width="2.3" height="1.3" fill="#68c4d4"/>
<rect x="111" y="17" width="2.3" height="1.3" fill="#72c6c2"/>
<rect x="113" y="17" width="4.3" height="1.3" fill="#7dcab0"/>
<rect x="117" y="17" width="4.3" height="1.3" fill="#89ce9c"/>
<rect x="121" y="17" width="11.3" height="1.3" fill="#98d186"/>
<rect x="0" y="18" width="5.3" height="1.3" fill="#2142a5"/>
<rect x="5" y="18" width="23.3" height="1.3" fill="#2246aa"/>
<rect x="28" y="18" width="31.3" height="1.3" fill="#244fb4"/>
<rect x="59" y="18" width="22.3" height="1.3" fill="#285bc0"/>
<rect x="81" y="18" width="7.3" height="1.3" fill="#2f6dcb"/>
<rect x="88" y="18" width="3.3" height="1.3" fill="#3884d6"/>
<rect x="91" y="18" width="3.3" height="1.3" fill="#419adf"/>
<rect x="94" y="18" width="3.3" height="1.3" fill="#4ab0e8"/>
<rect x="97" y="18" width="5.3" height="1.3" fill="#55b8e4"/>
<rect x="102" y="18" width="5.3" height="1.3" fill="#60c0e0"/>
<rect x="107" y="18" width="2.3" height="1.3" fill="#64c2da"/>
<rect x="109" y="18" width="3.3" height="1.3" fill="#68c4d4"/>
<rect x="112" y="18" width="3.3" height="1.3" fill="#72c6c2"/>
<rect x="115" y="18" width="4.3" height="1.3" fill="#7dcab0"/>
<rect x="119" y="18" width="4.3" height="1.3" fill="#89ce9c"/>
<rect x="123" y="18" width="1.3" height="1.3" fill="#98d186"/>
<rect x="124" y="18" width="8.3" height="1.3" fill="#89ce9c"/>
<rect x="0" y="19" width="3.3" height="1.3" fill="#2142a5"/>
<rect x="3" y="19" width="24.3" height="1.3" fill="#2246aa"/>
<rect x="27" y="19" width="32.3" height="1.3" fill="#244fb4"/>
<rect x="59" y="19" width="22.3" height="1.3" fill="#285bc0"/>
<rect x="81" y="19" width="7.3" height="1.3" fill="#2f6dcb"/>
<rect x="88" y="19" width="3.3" height="1.3" fill="#3884d6"/>
<rect x="91" y="19" width="3.3" height="1.3" fill="#419adf"/>
<rect x="94" y="19" width="2.3" height="1.3" fill="#4ab0e8"/>
<rect x="96" y="19" width="7.3" height="1.3" fill="#55b8e4"/>
<rect x="103" y="19" width="4.3" height="1.3" fill="#60c0e0"/>
<rect x="107" y="19" width="3.3" height="1.3" fill="#64c2da"/>
<rect x="110" y="19" width="3.3" height="1.3" fill="#68c4d4"/>
<rect x="113" y="19" width="4.3" height="1.3" fill="#72c6c2"/>
<rect x="117" y="19" width="4.3" height="1.3" fill="#7dcab0"/>
<rect x="121" y="19" width="7.3" height="1.3" fill="#89ce9c"/>
<rect x="128" y="19" width="4.3" height="1.3" fill="#7dcab0"/>
<rect x="0" y="20" width="2.3" height="1.3" fill="#2142a5"/>
<rect x="2" y="20" width="24.3" height="1.3" fill="#2246aa"/>
<rect x="26" y="20" width="32.3" height="1.3" fill="#244fb4"/>
<rect x="58" y="20" width="23.3" height="1.3" fill="#285bc0"/>
<rect x="81" y="20" width="6.3" height="1.3" fill="#2f6dcb"/>
<rect x="87" y="20" width="3.3" height="1.3" fill="#3884d6"/>
<rect x="90" y="20" width="3.3" height="1.3" fill="#419adf"/>
<rect x="93" y="20" width="3.3" height="1.3" fill="#4ab0e8"/>
<rect x="96" y="20" width="7.3" height="1.3" fill="#55b8e4"/>
<rect x="103" y="20" width="4.3" height="1.3" fill="#60c0e0"/>
<rect x="107" y="20" width="4.3" height="1.3" fill="#64c2da"/>
<rect x="111" y="20" width="3.3" height="1.3" fill="#68c4d4"/>
<rect x="114" y="20" width="6.3" height="1.3" fill="#72c6c2"/>
<rect x="120" y="20" width="12.3" height="1.3" fill="#7dcab0"/>
<rect x="0" y="21" width="24.3" height="1.3" fill="#2246aa"/>
<rect x="24" y="21" width="34.3" height="1.3" fill="#244fb4"/>
<rect x="58" y="21" width="23.3" height="1.3" fill="#285bc0"/>
<rect x="81" y="21" width="6.3" height="1.3" fill="#2f6dcb"/>
<rect x="87" y="21" width="3.3" height="1.3" fill="#3884d6"/>
<rect x="90" y="21" width="3.3" height="1.3" fill="#419adf"/>
<rect x="93" y="21" width="3.3" height="1.3" fill="#4ab0e8"/>
<rect x="96" y="21" width="7.3" height="1.3" fill="#55b8e4"/>
<rect x="103" y="21" width="5.3" height="1.3" fill="#60c0e0"/>
<rect x="108" y="21" width="4.3" height="1.3" fill="#64c2da"/>
<rect x="112" y="21" width="5.3" height="1.3" fill="#68c4d4"/>
<rect x="117" y="21" width="15.3" height="1.3" fill="#72c6c2"/>
<rect x="0" y="22" width="22.3" height="1.3" fill="#2246aa"/>
<rect x="22" y="22" width="35.3" height="1.3" fill="#244fb4"/>
<rect x="57" y="22" width="23.3" height="1.3" fill="#285bc0"/>
<rect x="80" y="22" width="6.3" height="1.3" fill="#2f6dcb"/>
<rect x="86" y="22" width="4.3" height="1.3" fill="#3884d6"/>
<rect x="90" y="22" width="3.3" height="1.3" fill="#419adf"/>
<rect x="93" y="22" width="3.3" height="1.3" fill="#4ab0e8"/>
<rect x="96" y="22" width="7.3" height="1.3" fill="#55b8e4"/>
<rect x="103" y="22" width="6.3" height="1.3" fill="#60c0e0"/>
<rect x="109" y="22" width="5.3" height="1.3" fill="#64c2da"/>
<rect x="114" y="22" width="8.3" height="1.3" fill="#68c4d4"/>
<rect x="122" y="22" width="1.3" height="1.3" fill="#72c6c2"/>
<rect x="123" y="22" width="9.3" height="1.3" fill="#68c4d4"/>
<rect x="0" y="23" width="18.3" height="1.3" fill="#2246aa"/>
<rect x="18" y="23" width="38.3" height="1.3" fill="#244fb4"/>
<rect x="56" y="23" width="24.3" height="1.3" fill="#285bc0"/>
<rect x="80" y="23" width="5.3" height="1.3" fill="#2f6dcb"/>
<rect x="85" y="23" width="4.3" height="1.3" fill="#3884d6"/>
<rect x="89" y="23" width="3.3" height="1.3" fill="#419adf"/>
<rect x="92" y="23" width="3.3" height="1.3" fill="#4ab0e8"/>
<rect x="95" y="23" width="8.3" height="1.3" fill="#55b8e4"/>
<rect x="103" y="23" width="7.3" height="1.3" fill="#60c0e0"/>
<rect x="110" y="23" width="9.3" height="1.3" fill="#64c2da"/>
<rect x="119" y="23" width="7.3" height="1.3" fill="#68c4d4"/>
<rect x="126" y="23" width="6.3" height="1.3" fill="#64c2da"/>
<rect x="0" y="24" width="16.3" height="1.3" fill="#2246aa"/>
<rect x="16" y="24" width="37.3" height="1.3" fill="#244fb4"/>
<rect x="53" y="24" width="27.3" height="1.3" fill="#285bc0"/>
<rect x="80" y="24" width="5.3" height="1.3" fill="#2f6dcb"/>
<rect x="85" y="24" width="4.3" height="1.3" fill="#3884d6"/>
<rect x="89" y="24" width="3.3" height="1.3" fill="#419adf"/>
<rect x="92" y="24" width="3.3" height="1.3" fill="#4ab0e8"/>
<rect x="95" y="24" width="8.3" height="1.3" fill="#55b8e4"/>
<rect x="103" y="24" width="9.3" height="1.3" fill="#60c0e0"/>
<rect x="112" y="24" width="17.3" height="1.3" fill="#64c2da"/>
<rect x="129" y="24" width="3.3" height="1.3" fill="#60c0e0"/>
<rect x="0" y="25" width="14.3" height="1.3" fill="#2246aa"/>
<rect x="14" y="25" width="38.3" height="1.3" fill="#244fb4"/>
<rect x="52" y="25" width="28.3" height="1.3" fill="#285bc0"/>
<rect x="80" y="25" width="4.3" height="1.3" fill="#2f6dcb"/>
<rect x="84" y="25" width="5.3" height="1.3" fill="#3884d6"/>
<rect x="89" y="25" width="3.3" height="1.3" fill="#419adf"/>
<rect x="92" y="25" width="3.3" height="1.3" fill="#4ab0e8"/>
<rect x="95" y="25" width="8.3" height="1.3" fill="#55b8e4"/>
<rect x="103" y="25" width="29.3" height="1.3" fill="#60c0e0"/>
<rect x="0" y="26" width="12.3" height="1.3" fill="#2246aa"/>
<rect x="12" y="26" width="39.3" height="1.3" fill="#244fb4"/>
<rect x="51" y="26" width="28.3" height="1.3" fill="#285bc0"/>
<rect x="79" y="26" width="5.3" height="1.3" fill="#2f6dcb"/>
<rect x="84" y="26" width="4.3" height="1.3" fill="#3884d6"/>
<rect x="88" y="26" width="3.3" height="1.3" fill="#419adf"/>
<rect x="91" y="26" width="3.3" height="1.3" fill="#4ab0e8"/>
<rect x="94" y="26" width="9.3" height="1.3" fill="#55b8e4"/>
<rect x="103" y="26" width="20.3" height="1.3" fill="#60c0e0"/>
<rect x="123" y="26" width="9.3" height="1.3" fill="#55b8e4"/>
<rect x="0" y="27" width="10.3" height="1.3" fill="#2246aa"/>
<rect x="10" y="27" width="41.3" height="1.3" fill="#244fb4"/>
<rect x="51" y="27" width="28.3" height="1.3" fill="#285bc0"/>
<rect x="79" y="27" width="4.3" height="1.3" fill="#2f6dcb"/>
<rect x="83" y="27" width="5.3" height="1.3" fill="#3884d6"/>
<rect x="88" y="27" width="3.3" height="1.3" fill="#419adf"/>
<rect x="91" y="27" width="3.3" height="1.3" fill="#4ab0e8"/>
<rect x="94" y="27" width="35.3" height="1.3" fill="#55b8e4"/>
<rect x="129" y="27" width="3.3" height="1.3" fill="#4ab0e8"/>
<rect x="0" y="28" width="9.3" height="1.3" fill="#2246aa"/>
<rect x="9" y="28" width="43.3" height="1.3" fill="#244fb4"/>
<rect x="52" y="28" width="24.3" height="1.3" fill="#285bc0"/>
<rect x="76" y="28" width="7.3" height="1.3" fill="#2f6dcb"/>
<rect x="83" y="28" width="4.3" height="1.3" fill="#3884d6"/>
<rect x="87" y="28" width="4.3" height="1.3" fill="#419adf"/>
<rect x="91" y="28" width="4.3" height="1.3" fill="#4ab0e8"/>
<rect x="95" y="28" width="31.3" height="1.3" fill="#55b8e4"/>
<rect x="126" y="28" width="6.3" height="1.3" fill="#4ab0e8"/>
<rect x="0" y="29" width="8.3" height="1.3" fill="#2246aa"/>
<rect x="8" y="29" width="46.3" height="1.3" fill="#244fb4"/>
<rect x="54" y="29" width="21.3" height="1.3" fill="#285bc0"/>
<rect x="75" y="29" width="7.3" height="1.3" fill="#2f6dcb"/>
<rect x="82" y="29" width="5.3" height="1.3" fill="#3884d6"/>
<rect x="87" y="29" width="4.3" height="1.3" fill="#419adf"/>
<rect x="91" y="29" width="4.3" height="1.3" fill="#4ab0e8"/>
<rect x="95" y="29" width="28.3" height="1.3" fill="#55b8e4"/>
<rect x="123" y="29" width="9.3" height="1.3" fill="#4ab0e8"/>
<rect x="0" y="30" width="7.3" height="1.3" fill="#2246aa"/>
<rect x="7" y="30" width="49.3" height="1.3" fill="#244fb4"/>
<rect x="56" y="30" width="18.3" height="1.3" fill="#285bc0"/>
<rect x="74" y="30" width="7.3" height="1.3" fill="#2f6dcb"/>
<rect x="81" y="30" width="6.3" height="1.3" fill="#3884d6"/>
<rect x="87" y="30" width="4.3" height="1.3" fill="#419adf"/>
<rect x="91" y="30" width="5.3" height="1.3" fill="#4ab0e8"/>
<rect x="96" y="30" width="21.3" height="1.3" fill="#55b8e4"/>
<rect x="117" y="30" width="15.3" height="1.3" fill="#4ab0e8"/>
<rect x="0" y="31" width="4.3" height="1.3" fill="#2246aa"/>
<rect x="4" y="31" width="53.3" height="1.3" fill="#244fb4"/>
<rect x="57" y="31" width="16.3" height="1.3" fill="#285bc0"/>
<rect x="73" y="31" width="7.3" height="1.3" fill="#2f6dcb"/>
<rect x="80" y="31" width="6.3" height="1.3" fill="#3884d6"/>
<rect x="86" y="31" width="5.3" height="1.3" fill="#419adf"/>
<rect x="91" y="31" width="5.3" height="1.3" fill="#4ab0e8"/>
<rect x="96" y="31" width="13.3" height="1.3" fill="#55b8e4"/>
<rect x="109" y="31" width="23.3" height="1.3" fill="#4ab0e8"/>
<rect x="0" y="32" width="58.3" height="1.3" fill="#244fb4"/>
<rect x="58" y="32" width="14.3" height="1.3" fill="#285bc0"/>
<rect x="72" y="32" width="8.3" height="1.3" fill="#2f6dcb"/>
<rect x="80" y="32" width="5.3" height="1.3" fill="#3884d6"/>
<rect x="85" y="32" width="6.3" height="1.3" fill="#419adf"/>
<rect x="91" y="32" width="38.3" height="1.3" fill="#4ab0e8"/>
<rect x="129" y="32" width="3.3" height="1.3" fill="#419adf"/>
<rect x="0" y="33" width="58.3" height="1.3" fill="#244fb4"/>
<rect x="58" y="33" width="14.3" height="1.3" fill="#285bc0"/>
<rect x="72" y="33" width="6.3" height="1.3" fill="#2f6dcb"/>
<rect x="78" y="33" width="7.3" height="1.3" fill="#3884d6"/>
<rect x="85" y="33" width="6.3" height="1.3" fill="#419adf"/>
<rect x="91" y="33" width="30.3" height="1.3" fill="#4ab0e8"/>
<rect x="121" y="33" width="11.3" height="1.3" fill="#419adf"/>
<rect x="0" y="34" width="59.3" height="1.3" fill="#244fb4"/>
<rect x="59" y="34" width="12.3" height="1.3" fill="#285bc0"/>
<rect x="71" y="34" width="6.3" height="1.3" fill="#2f6dcb"/>
<rect x="77" y="34" width="7.3" height="1.3" fill="#3884d6"/>
<rect x="84" y="34" width="7.3" height="1.3" fill="#419adf"/>
<rect x="91" y="34" width="25.3" height="1.3" fill="#4ab0e8"/>
<rect x="116" y="34" width="16.3" height="1.3" fill="#419adf"/>
<rect x="0" y="35" width="59.3" height="1.3" fill="#244fb4"/>
<rect x="59" y="35" width="12.3" height="1.3" fill="#285bc0"/>
<rect x="71" y="35" width="5.3" height="1.3" fill="#2f6dcb"/>
<rect x="76" y="35" width="7.3" height="1.3" fill="#3884d6"/>
<rect x="83" y="35" width="8.3" height="1.3" fill="#419adf"/>
<rect x="91" y="35" width="19.3" height="1.3" fill="#4ab0e8"/>
<rect x="110" y="35" width="22.3" height="1.3" fill="#419adf"/>
<rect x="0" y="36" width="57.3" height="1.3" fill="#244fb4"/>
<rect x="57" y="36" width="13.3" height="1.3" fill="#285bc0"/>
<rect x="70" y="36" width="6.3" height="1.3" fill="#2f6dcb"/>
<rect x="76" y="36" width="7.3" height="1.3" fill="#3884d6"/>
<rect x="83" y="36" width="10.3" height="1.3" fill="#419adf"/>
<rect x="93" y="36" width="10.3" height="1.3" fill="#4ab0e8"/>
<rect x="103" y="36" width="29.3" height="1.3" fill="#419adf"/>
<rect x="0" y="37" width="53.3" height="1.3" fill="#244fb4"/>
<rect x="53" y="37" width="15.3" height="1.3" fill="#285bc0"/>
<rect x="68" y="37" width="8.3" height="1.3" fill="#2f6dcb"/>
<rect x="76" y="37" width="8.3" height="1.3" fill="#3884d6"/>
<rect x="84" y="37" width="12.3" height="1.3" fill="#419adf"/>
<rect x="96" y="37" width="1.3" height="1.3" fill="#4ab0e8"/>
<rect x="97" y="37" width="23.3" height="1.3" fill="#419adf"/>
<rect x="120" y="37" width="12.3" height="1.3" fill="#3884d6"/>
<rect x="0" y="38" width="42.3" height="1.3" fill="#244fb4"/>
<rect x="42" y="38" width="24.3" height="1.3" fill="#285bc0"/>
<rect x="66" y="38" width="9.3" height="1.3" fill="#2f6dcb"/>
<rect x="75" y="38" width="10.3" height="1.3" fill="#3884d6"/>
<rect x="85" y="38" width="29.3" height="1.3" fill="#419adf"/>
<rect x="114" y="38" width="18.3" height="1.3" fill="#3884d6"/>
<rect x="0" y="39" width="39.3" height="1.3" fill="#244fb4"/>
<rect x="39" y="39" width="24.3" height="1.3" fill="#285bc0"/>
<rect x="63" y="39" width="11.3" height="1.3" fill="#2f6dcb"/>
<rect x="74" y="39" width="13.3" height="1.3" fill="#3884d6"/>
<rect x="87" y="39" width="18.3" height="1.3" fill="#419adf"/>
<rect x="105" y="39" width="27.3" height="1.3" fill="#3884d6"/>
<rect x="0" y="40" width="37.3" height="1.3" fill="#244fb4"/>
<rect x="37" y="40" width="23.3" height="1.3" fill="#285bc0"/>
<rect x="60" y="40" width="13.3" height="1.3" fill="#2f6dcb"/>
<rect x="73" y="40" width="20.3" height="1.3" fill="#3884d6"/>
<rect x="93" y="40" width="5.3" height="1.3" fill="#419adf"/>
<rect x="98" y="40" width="34.3" height="1.3" fill="#3884d6"/>
<rect x="0" y="41" width="36.3" height="1.3" fill="#244fb4"/>
<rect x="36" y="41" width="21.3" height="1.3" fill="#285bc0"/>
<rect x="57" y="41" width="15.3" height="1.3" fill="#2f6dcb"/>
<rect x="72" y="41" width="46.3" height="1.3" fill="#3884d6"/>
<rect x="118" y="41" width="14.3" height="1.3" fill="#2f6dcb"/>
<rect x="0" y="42" width="35.3" height="1.3" fill="#244fb4"/>
<rect x="35" y="42" width="19.3" height="1.3" fill="#285bc0"/>
<rect x="54" y="42" width="15.3" height="1.3" fill="#2f6dcb"/>
<rect x="69" y="42" width="40.3" height="1.3" fill="#3884d6"/>
<rect x="109" y="42" width="23.3" height="1.3" fill="#2f6dcb"/>
<rect x="0" y="43" width="34.3" height="1.3" fill="#244fb4"/>
<rect x="34" y="43" width="17.3" height="1.3" fill="#285bc0"/>
<rect x="51" y="43" width="14.3" height="1.3" fill="#2f6dcb"/>
<rect x="65" y="43" width="34.3" height="1.3" fill="#3884d6"/>
<rect x="99" y="43" width="33.3" height="1.3" fill="#2f6dcb"/>
<rect x="0" y="44" width="33.3" height="1.3" fill="#244fb4"/>
<rect x="33" y="44" width="14.3" height="1.3" fill="#285bc0"/>
<rect x="47" y="44" width="14.3" height="1.3" fill="#2f6dcb"/>
<rect x="61" y="44" width="31.3" height="1.3" fill="#3884d6"/>
<rect x="92" y="44" width="40.3" height="1.3" fill="#2f6dcb"/>
<rect x="0" y="45" width="31.3" height="1.3" fill="#244fb4"/>
<rect x="31" y="45" width="13.3" height="1.3" fill="#285bc0"/>
<rect x="44" y="45" width="16.3" height="1.3" fill="#2f6dcb"/>
<rect x="60" y="45" width="27.3" height="1.3" fill="#3884d6"/>
<rect x="87" y="45" width="31.3" height="1.3" fill="#2f6dcb"/>
<rect x="118" y="45" width="14.3" height="1.3" fill="#285bc0"/>
<rect x="0" y="46" width="29.3" height="1.3" fill="#244fb4"/>
<rect x="29" y="46" width="13.3" height="1.3" fill="#285bc0"/>
<rect x="42" y="46" width="17.3" height="1.3" fill="#2f6dcb"/>
<rect x="59" y="46" width="24.3" height="1.3" fill="#3884d6"/>
<rect x="83" y="46" width="31.3" height="1.3" fill="#2f6dcb"/>
<rect x="114" y="46" width="18.3" height="1.3" fill="#285bc0"/>
<rect x="0" y="47" width="27.3" height="1.3" fill="#244fb4"/>
<rect x="27" y="47" width="13.3" height="1.3" fill="#285bc0"/>
<rect x="40" y="47" width="18.3" height="1.3" fill="#2f6dcb"/>
<rect x="58" y="47" width="21.3" height="1.3" fill="#3884d6"/>
<rect x="79" y="47" width="25.3" height="1.3" fill="#2f6dcb"/>
<rect x="104" y="47" width="28.3" height="1.3" fill="#285bc0"/>
<rect x="0" y="48" width="25.3" height="1.3" fill="#244fb4"/>
<rect x="25" y="48" width="13.3" height="1.3" fill="#285bc0"/>
<rect x="38" y="48" width="20.3" height="1.3" fill="#2f6dcb"/>
<rect x="58" y="48" width="18.3" height="1.3" fill="#3884d6"/>
<rect x="76" y="48" width="22.3" height="1.3" fill="#2f6dcb"/>
<rect x="98" y="48" width="34.3" height="1.3" fill="#285bc0"/>
<rect x="0" y="49" width="21.3" height="1.3" fill="#244fb4"/>
<rect x="21" y="49" width="15.3" height="1.3" fill="#285bc0"/>
<rect x="36" y="49" width="21.3" height="1.3" fill="#2f6dcb"/>
<rect x="57" y="49" width="17.3" height="1.3" fill="#3884d6"/>
<rect x="74" y="49" width="17.3" height="1.3" fill="#2f6dcb"/>
<rect x="91" y="49" width="41.3" height="1.3" fill="#285bc0"/>
<rect x="0" y="50" width="19.3" height="1.3" fill="#244fb4"/>
<rect x="19" y="50" width="15.3" height="1.3" fill="#285bc0"/>
<rect x="34" y="50" width="22.3" height="1.3" fill="#2f6dcb"/>
<rect x="56" y="50" width="17.3" height="1.3" fill="#3884d6"/>
<rect x="73" y="50" width="13.3" height="1.3" fill="#2f6dcb"/>
<rect x="86" y="50" width="46.3" height="1.3" fill="#285bc0"/>
<rect x="0" y="51" width="18.3" height="1.3" fill="#244fb4"/>
<rect x="18" y="51" width="15.3" height="1.3" fill="#285bc0"/>
<rect x="33" y="51" width="23.3" height="1.3" fill="#2f6dcb"/>
<rect x="56" y="51" width="16.3" height="1.3" fill="#3884d6"/>
<rect x="72" y="51" width="11.3" height="1.3" fill="#2f6dcb"/>
<rect x="83" y="51" width="49.3" height="1.3" fill="#285bc0"/>
<rect x="0" y="52" width="16.3" height="1.3" fill="#244fb4"/>
<rect x="16" y="52" width="15.3" height="1.3" fill="#285bc0"/>
<rect x="31" y="52" width="8.3" height="1.3" fill="#2f6dcb"/>
<rect x="39" y="52" width="6.3" height="1.3" fill="#3884d6"/>
<rect x="45" y="52" width="10.3" height="1.3" fill="#2f6dcb"/>
<rect x="55" y="52" width="17.3" height="1.3" fill="#3884d6"/>
<rect x="72" y="52" width="8.3" height="1.3" fill="#2f6dcb"/>
<rect x="80" y="52" width="32.3" height="1.3" fill="#285bc0"/>
<rect x="112" y="52" width="20.3" height="1.3" fill="#244fb4"/>
<rect x="0" y="53" width="16.3" height="1.3" fill="#244fb4"/>
<rect x="16" y="53" width="14.3" height="1.3" fill="#285bc0"/>
<rect x="30" y="53" width="7.3" height="1.3" fill="#2f6dcb"/>
<rect x="37" y="53" width="10.3" height="1.3" fill="#3884d6"/>
<rect x="47" y="53" width="8.3" height="1.3" fill="#2f6dcb"/>
<rect x="55" y="53" width="16.3" height="1.3" fill="#3884d6"/>
<rect x="71" y="53" width="8.3" height="1.3" fill="#2f6dcb"/>
<rect x="79" y="53" width="29.3" height="1.3" fill="#285bc0"/>
<rect x="108" y="53" width="24.3" height="1.3" fill="#244fb4"/>
<rect x="0" y="54" width="14.3" height="1.3" fill="#244fb4"/>
<rect x="14" y="54" width="16.3" height="1.3" fill="#285bc0"/>
<rect x="30" y="54" width="7.3" height="1.3" fill="#2f6dcb"/>
<rect x="37" y="54" width="10.3" height="1.3" fill="#3884d6"/>
<rect x="47" y="54" width="8.3" height="1.3" fill="#2f6dcb"/>
<rect x="55" y="54" width="5.3" height="1.3" fill="#3884d6"/>
<rect x="60" y="54" width="3.3" height="1.3" fill="#419adf"/>
<rect x="63" y="54" width="7.3" height="1.3" fill="#3884d6"/>
<rect x="70" y="54" width="8.3" height="1.3" fill="#2f6dcb"/>
<rect x="78" y="54" width="29.3" height="1.3" fill="#285bc0"/>
<rect x="107" y="54" width="25.3" height="1.3" fill="#244fb4"/>
<rect x="0" y="55" width="13.3" height="1.3" fill="#244fb4"/>
<rect x="13" y="55" width="16.3" height="1.3" fill="#285bc0"/>
<rect x="29" y="55" width="8.3" height="1.3" fill="#2f6dcb"/>
<rect x="37" y="55" width="10.3" height="1.3" fill="#3884d6"/>
<rect x="47" y="55" width="8.3" height="1.3" fill="#2f6dcb"/>
<rect x="55" y="55" width="5.3" height="1.3" fill="#3884d6"/>
<rect x="60" y="55" width="4.3" height="1.3" fill="#419adf"/>
<rect x="64" y="55" width="6.3" height="1.3" fill="#3884d6"/>
<rect x="70" y="55" width="8.3" height="1.3" fill="#2f6dcb"/>
<rect x="78" y="55" width="28.3" height="1.3" fill="#285bc0"/>
<rect x="106" y="55" width="26.3" height="1.3" fill="#244fb4"/>
<rect x="0" y="56" width="12.3" height="1.3" fill="#244fb4"/>
<rect x="12" y="56" width="16.3" height="1.3" fill="#285bc0"/>
<rect x="28" y="56" width="9.3" height="1.3" fill="#2f6dcb"/>
<rect x="37" y="56" width="10.3" height="1.3" fill="#3884d6"/>
<rect x="47" y="56" width="8.3" height="1.3" fill="#2f6dcb"/>
<rect x="55" y="56" width="4.3" height="1.3" fill="#3884d6"/>
<rect x="59" y="56" width="6.3" height="1.3" fill="#419adf"/>
<rect x="65" y="56" width="4.3" height="1.3" fill="#3884d6"/>
<rect x="69" y="56" width="8.3" height="1.3" fill="#2f6dcb"/>
<rect x="77" y="56" width="18.3" height="1.3" fill="#285bc0"/>
<rect x="95" y="56" width="37.3" height="1.3" fill="#244fb4"/>
<rect x="0" y="57" width="11.3" height="1.3" fill="#244fb4"/>
<rect x="11" y="57" width="15.3" height="1.3" fill="#285bc0"/>
<rect x="26" y="57" width="12.3" height="1.3" fill="#2f6dcb"/>
<rect x="38" y="57" width="9.3" height="1.3" fill="#3884d6"/>
<rect x="47" y="57" width="7.3" height="1.3" fill="#2f6dcb"/>
<rect x="54" y="57" width="4.3" height="1.3" fill="#3884d6"/>
<rect x="58" y="57" width="3.3" height="1.3" fill="#419adf"/>
<rect x="61" y="57" width="2.3" height="1.3" fill="#4ab0e8"/>
<rect x="63" y="57" width="2.3" height="1.3" fill="#419adf"/>
<rect x="65" y="57" width="4.3" height="1.3" fill="#3884d6"/>
<rect x="69" y="57" width="8.3" height="1.3" fill="#2f6dcb"/>
<rect x="77" y="57" width="16.3" height="1.3" fill="#285bc0"/>
<rect x="93" y="57" width="39.3" height="1.3" fill="#244fb4"/>
<rect x="0" y="58" width="10.3" height="1.3" fill="#244fb4"/>
<rect x="10" y="58" width="14.3" height="1.3" fill="#285bc0"/>
<rect x="24" y="58" width="15.3" height="1.3" fill="#2f6dcb"/>
<rect x="39" y="58" width="7.3" height="1.3" fill="#3884d6"/>
<rect x="46" y="58" width="8.3" height="1.3" fill="#2f6dcb"/>
<rect x="54" y="58" width="4.3" height="1.3" fill="#3884d6"/>
<rect x="58" y="58" width="2.3" height="1.3" fill="#419adf"/>
<rect x="60" y="58" width="4.3" height="1.3" fill="#4ab0e8"/>
<rect x="64" y="58" width="2.3" height="1.3" fill="#419adf"/>
<rect x="66" y="58" width="3.3" height="1.3" fill="#3884d6"/>
<rect x="69" y="58" width="7.3" height="1.3" fill="#2f6dcb"/>
<rect x="76" y="58" width="16.3" height="1.3" fill="#285bc0"/>
<rect x="92" y="58" width="40.3" height="1.3" fill="#244fb4"/>
<rect x="0" y="59" width="9.3" height="1.3" fill="#244fb4"/>
<rect x="9" y="59" width="14.3" height="1.3" fill="#285bc0"/>
<rect x="23" y="59" width="17.3" height="1.3" fill="#2f6dcb"/>
<rect x="40" y="59" width="5.3" height="1.3" fill="#3884d6"/>
<rect x="45" y="59" width="9.3" height="1.3" fill="#2f6dcb"/>
<rect x="54" y="59" width="4.3" height="1.3" fill="#3884d6"/>
<rect x="58" y="59" width="2.3" height="1.3" fill="#419adf"/>
<rect x="60" y="59" width="4.3" height="1.3" fill="#4ab0e8"/>
<rect x="64" y="59" width="2.3" height="1.3" fill="#419adf"/>
<rect x="66" y="59" width="2.3" height="1.3" fill="#3884d6"/>
<rect x="68" y="59" width="8.3" height="1.3" fill="#2f6dcb"/>
<rect x="76" y="59" width="15.3" height="1.3" fill="#285bc0"/>
<rect x="91" y="59" width="41.3" height="1.3" fill="#244fb4"/>
<rect x="0" y="60" width="9.3" height="1.3" fill="#244fb4"/>
<rect x="9" y="60" width="12.3" height="1.3" fill="#285bc0"/>
<rect x="21" y="60" width="33.3" height="1.3" fill="#2f6dcb"/>
<rect x="54" y="60" width="4.3" height="1.3" fill="#3884d6"/>
<rect x="58" y="60" width="2.3" height="1.3" fill="#419adf"/>
<rect x="60" y="60" width="4.3" height="1.3" fill="#4ab0e8"/>
<rect x="64" y="60" width="2.3" height="1.3" fill="#419adf"/>
<rect x="66" y="60" width="2.3" height="1.3" fill="#3884d6"/>
<rect x="68" y="60" width="7.3" height="1.3" fill="#2f6dcb"/>
<rect x="75" y="60" width="16.3" height="1.3" fill="#285bc0"/>
<rect x="91" y="60" width="41.3" height="1.3" fill="#244fb4"/>
<rect x="0" y="61" width="8.3" height="1.3" fill="#244fb4"/>
<rect x="8" y="61" width="12.3" height="1.3" fill="#285bc0"/>
<rect x="20" y="61" width="34.3" height="1.3" fill="#2f6dcb"/>
<rect x="54" y="61" width="4.3" height="1.3" fill="#3884d6"/>
<rect x="58" y="61" width="3.3" height="1.3" fill="#419adf"/>
<rect x="61" y="61" width="2.3" height="1.3" fill="#4ab0e8"/>
<rect x="63" y="61" width="2.3" height="1.3" fill="#419adf"/>
<rect x="65" y="61" width="3.3" height="1.3" fill="#3884d6"/>
<rect x="68" y="61" width="6.3" height="1.3" fill="#2f6dcb"/>
<rect x="74" y="61" width="16.3" height="1.3" fill="#285bc0"/>
<rect x="90" y="61" width="42.3" height="1.3" fill="#244fb4"/>
<rect x="0" y="62" width="7.3" height="1.3" fill="#244fb4"/>
<rect x="7" y="62" width="12.3" height="1.3" fill="#285bc0"/>
<rect x="19" y="62" width="15.3" height="1.3" fill="#2f6dcb"/>
<rect x="34" y="62" width="2.3" height="1.3" fill="#285bc0"/>
<rect x="36" y="62" width="18.3" height="1.3" fill="#2f6dcb"/>
<rect x="54" y="62" width="5.3" height="1.3" fill="#3884d6"/>
<rect x="59" y="62" width="6.3" height="1.3" fill="#419adf"/>
<rect x="65" y="62" width="3.3" height="1.3" fill="#3884d6"/>
<rect x="68" y="62" width="6.3" height="1.3" fill="#2f6dcb"/>
<rect x="74" y="62" width="16.3" height="1.3" fill="#285bc0"/>
<rect x="90" y="62" width="42.3" height="1.3" fill="#244fb4"/>
<rect x="0" y="63" width="6.3" height="1.3" fill="#244fb4"/>
<rect x="6" y="63" width="12.3" height="1.3" fill="#285bc0"/>
<rect x="18" y="63" width="16.3" height="1.3" fill="#2f6dcb"/>
<rect x="34" y="63" width="2.3" height="1.3" fill="#285bc0"/>
<rect x="36" y="63" width="18.3" height="1.3" fill="#2f6dcb"/>
<rect x="54" y="63" width="5.3" height="1.3" fill="#3884d6"/>
<rect x="59" y="63" width="5.3" height="1.3" fill="#419adf"/>
<rect x="64" y="63" width="3.3" height="1.3" fill="#3884d6"/>
<rect x="67" y="63" width="6.3" height="1.3" fill="#2f6dcb"/>
<rect x="73" y="63" width="16.3" height="1.3" fill="#285bc0"/>
<rect x="89" y="63" width="43.3" height="1.3" fill="#244fb4"/>
<rect x="0" y="64" width="5.3" height="1.3" fill="#244fb4"/>
<rect x="5" y="64" width="12.3" height="1.3" fill="#285bc0"/>
<rect x="17" y="64" width="38.3" height="1.3" fill="#2f6dcb"/>
<rect x="55" y="64" width="6.3" height="1.3" fill="#3884d6"/>
<rect x="61" y="64" width="1.3" height="1.3" fill="#419adf"/>
<rect x="62" y="64" width="4.3" height="1.3" fill="#3884d6"/>
<rect x="66" y="64" width="7.3" height="1.3" fill="#2f6dcb"/>
<rect x="73" y="64" width="15.3" height="1.3" fill="#285bc0"/>
<rect x="88" y="64" width="44.3" height="1.3" fill="#244fb4"/>
<rect x="0" y="65" width="4.3" height="1.3" fill="#244fb4"/>
<rect x="4" y="65" width="12.3" height="1.3" fill="#285bc0"/>
<rect x="16" y="65" width="39.3" height="1.3" fill="#2f6dcb"/>
<rect x="55" y="65" width="11.3" height="1.3" fill="#3884d6"/>
<rect x="66" y="65" width="6.3" height="1.3" fill="#2f6dcb"/>
<rect x="72" y="65" width="15.3" height="1.3" fill="#285bc0"/>
<rect x="87" y="65" width="45.3" height="1.3" fill="#244fb4"/>
<rect x="0" y="66" width="3.3" height="1.3" fill="#244fb4"/>
<rect x="3" y="66" width="12.3" height="1.3" fill="#285bc0"/>
<rect x="15" y="66" width="41.3" height="1.3" fill="#2f6dcb"/>
<rect x="56" y="66" width="9.3" height="1.3" fill="#3884d6"/>
<rect x="65" y="66" width="7.3" height="1.3" fill="#2f6dcb"/>
<rect x="72" y="66" width="14.3" height="1.3" fill="#285bc0"/>
<rect x="86" y="66" width="46.3" height="1.3" fill="#244fb4"/>
<rect x="0" y="67" width="2.3" height="1.3" fill="#244fb4"/>
<rect x="2" y="67" width="13.3" height="1.3" fill="#285bc0"/>
<rect x="15" y="67" width="42.3" height="1.3" fill="#2f6dcb"/>
<rect x="57" y="67" width="6.3" height="1.3" fill="#3884d6"/>
<rect x="63" y="67" width="8.3" height="1.3" fill="#2f6dcb"/>
<rect x="71" y="67" width="14.3" height="1.3" fill="#285bc0"/>
<rect x="85" y="67" width="47.3" height="1.3" fill="#244fb4"/>
<rect x="0" y="68" width="1.3" height="1.3" fill="#244fb4"/>
<rect x="1" y="68" width="13.3" height="1.3" fill="#285bc0"/>
<rect x="14" y="68" width="46.3" height="1.3" fill="#2f6dcb"/>
<rect x="60" y="68" width="2.3" height="1.3" fill="#3884d6"/>
<rect x="62" y="68" width="9.3" height="1.3" fill="#2f6dcb"/>
<rect x="71" y="68" width="13.3" height="1.3" fill="#285bc0"/>
<rect x="84" y="68" width="48.3" height="1.3" fill="#244fb4"/>
<rect x="0" y="69" width="14.3" height="1.3" fill="#285bc0"/>
<rect x="14" y="69" width="56.3" height="1.3" fill="#2f6dcb"/>
<rect x="70" y="69" width="13.3" height="1.3" fill="#285bc0"/>
<rect x="83" y="69" width="49.3" height="1.3" fill="#244fb4"/>
<rect x="0" y="70" width="13.3" height="1.3" fill="#285bc0"/>
<rect x="13" y="70" width="12.3" height="1.3" fill="#2f6dcb"/>
<rect x="25" y="70" width="2.3" height="1.3" fill="#3884d6"/>
<rect x="27" y="70" width="43.3" height="1.3" fill="#2f6dcb"/>
<rect x="70" y="70" width="12.3" height="1.3" fill="#285bc0"/>
<rect x="82" y="70" width="31.3" height="1.3" fill="#244fb4"/>
<rect x="113" y="70" width="19.3" height="1.3" fill="#2246aa"/>
<rect x="0" y="71" width="13.3" height="1.3" fill="#285bc0"/>
<rect x="13" y="71" width="11.3" height="1.3" fill="#2f6dcb"/>
<rect x="24" y="71" width="3.3" height="1.3" fill="#3884d6"/>
<rect x="27" y="71" width="42.3" height="1.3" fill="#2f6dcb"/>
<rect x="69" y="71" width="12.3" height="1.3" fill="#285bc0"/>
<rect x="81" y="71" width="31.3" height="1.3" fill="#244fb4"/>
<rect x="112" y="71" width="20.3" height="1.3" fill="#2246aa"/>
<rect x="0" y="72" width="12.3" height="1.3" fill="#285bc0"/>
<rect x="12" y="72" width="11.3" height="1.3" fill="#2f6dcb"/>
<rect x="23" y="72" width="5.3" height="1.3" fill="#3884d6"/>
<rect x="28" y="72" width="40.3" height="1.3" fill="#2f6dcb"/>
<rect x="68" y="72" width="13.3" height="1.3" fill="#285bc0"/>
<rect x="81" y="72" width="31.3" height="1.3" fill="#244fb4"/>
<rect x="112" y="72" width="20.3" height="1.3" fill="#2246aa"/>
<rect x="0" y="73" width="10.3" height="1.3" fill="#285bc0"/>
<rect x="10" y="73" width="9.3" height="1.3" fill="#2f6dcb"/>
<rect x="19" y="73" width="10.3" height="1.3" fill="#3884d6"/>
<rect x="29" y="73" width="38.3" height="1.3" fill="#2f6dcb"/>
<rect x="67" y="73" width="14.3" height="1.3" fill="#285bc0"/>
<rect x="81" y="73" width="30.3" height="1.3" fill="#244fb4"/>
<rect x="111" y="73" width="21.3" height="1.3" fill="#2246aa"/>
<rect x="0" y="74" width="9.3" height="1.3" fill="#285bc0"/>
<rect x="9" y="74" width="8.3" height="1.3" fill="#2f6dcb"/>
<rect x="17" y="74" width="13.3" height="1.3" fill="#3884d6"/>
<rect x="30" y="74" width="36.3" height="1.3" fill="#2f6dcb"/>
<rect x="66" y="74" width="15.3" height="1.3" fill="#285bc0"/>
<rect x="81" y="74" width="30.3" height="1.3" fill="#244fb4"/>
<rect x="111" y="74" width="21.3" height="1.3" fill="#2246aa"/>
<rect x="0" y="75" width="6.3" height="1.3" fill="#285bc0"/>
<rect x="6" y="75" width="9.3" height="1.3" fill="#2f6dcb"/>
<rect x="15" y="75" width="16.3" height="1.3" fill="#3884d6"/>
<rect x="31" y="75" width="35.3" height="1.3" fill="#2f6dcb"/>
<rect x="66" y="75" width="15.3" height="1.3" fill="#285bc0"/>
<rect x="81" y="75" width="29.3" height="1.3" fill="#244fb4"/>
<rect x="110" y="75" width="22.3" height="1.3" fill="#2246aa"/>
<rect x="0" y="76" width="4.3" height="1.3" fill="#285bc0"/>
<rect x="4" y="76" width="10.3" height="1.3" fill="#2f6dcb"/>
<rect x="14" y="76" width="20.3" height="1.3" fill="#3884d6"/>
<rect x="34" y="76" width="32.3" height="1.3" fill="#2f6dcb"/>
<rect x="66" y="76" width="15.3" height="1.3" fill="#285bc0"/>
<rect x="81" y="76" width="28.3" height="1.3" fill="#244fb4"/>
<rect x="109" y="76" width="23.3" height="1.3" fill="#2246aa"/>
<rect x="0" y="77" width="2.3" height="1.3" fill="#285bc0"/>
<rect x="2" y="77" width="11.3" height="1.3" fill="#2f6dcb"/>
<rect x="13" y="77" width="23.3" height="1.3" fill="#3884d6"/>
<rect x="36" y="77" width="29.3" height="1.3" fill="#2f6dcb"/>
<rect x="65" y="77" width="16.3" height="1.3" fill="#285bc0"/>
<rect x="81" y="77" width="27.3" height="1.3" fill="#244fb4"/>
<rect x="108" y="77" width="24.3" height="1.3" fill="#2246aa"/>
<rect x="0" y="78" width="11.3" height="1.3" fill="#2f6dcb"/>
<rect x="11" y="78" width="27.3" height="1.3" fill="#3884d6"/>
<rect x="38" y="78" width="27.3" height="1.3" fill="#2f6dcb"/>
<rect x="65" y="78" width="16.3" height="1.3" fill="#285bc0"/>
<rect x="81" y="78" width="24.3" height="1.3" fill="#244fb4"/>
<rect x="105" y="78" width="27.3" height="1.3" fill="#2246aa"/>
<rect x="0" y="79" width="10.3" height="1.3" fill="#2f6dcb"/>
<rect x="10" y="79" width="30.3" height="1.3" fill="#3884d6"/>
<rect x="40" y="79" width="12.3" height="1.3" fill="#2f6dcb"/>
<rect x="52" y="79" width="1.3" height="1.3" fill="#3884d6"/>
<rect x="53" y="79" width="12.3" height="1.3" fill="#2f6dcb"/>
<rect x="65" y="79" width="16.3" height="1.3" fill="#285bc0"/>
<rect x="81" y="79" width="23.3" height="1.3" fill="#244fb4"/>
<rect x="104" y="79" width="28.3" height="1.3" fill="#2246aa"/>
<rect x="0" y="80" width="8.3" height="1.3" fill="#2f6dcb"/>
<rect x="8" y="80" width="9.3" height="1.3" fill="#3884d6"/>
<rect x="17" y="80" width="2.3" height="1.3" fill="#419adf"/>
<rect x="19" y="80" width="22.3" height="1.3" fill="#3884d6"/>
<rect x="41" y="80" width="10.3" height="1.3" fill="#2f6dcb"/>
<rect x="51" y="80" width="3.3" height="1.3" fill="#3884d6"/>
<rect x="54" y="80" width="11.3" height="1.3" fill="#2f6dcb"/>
<rect x="65" y="80" width="16.3" height="1.3" fill="#285bc0"/>
<rect x="81" y="80" width="22.3" height="1.3" fill="#244fb4"/>
<rect x="103" y="80" width="29.3" height="1.3" fill="#2246aa"/>
<rect x="0" y="81" width="5.3" height="1.3" fill="#2f6dcb"/>
<rect x="5" y="81" width="9.3" height="1.3" fill="#3884d6"/>
<rect x="14" y="81" width="7.3" height="1.3" fill="#419adf"/>
<rect x="21" y="81" width="20.3" height="1.3" fill="#3884d6"/>
<rect x="41" y="81" width="9.3" height="1.3" fill="#2f6dcb"/>
<rect x="50" y="81" width="4.3" height="1.3" fill="#3884d6"/>
<rect x="54" y="81" width="11.3" height="1.3" fill="#2f6dcb"/>
<rect x="65" y="81" width="16.3" height="1.3" fill="#285bc0"/>
<rect x="81" y="81" width="22.3" height="1.3" fill="#244fb4"/>
<rect x="103" y="81" width="29.3" height="1.3" fill="#2246aa"/>
<rect x="0" y="82" width="2.3" height="1.3" fill="#2f6dcb"/>
<rect x="2" y="82" width="9.3" height="1.3" fill="#3884d6"/>
<rect x="11" y="82" width="12.3" height="1.3" fill="#419adf"/>
<rect x="23" y="82" width="10.3" height="1.3" fill="#3884d6"/>
<rect x="33" y="82" width="4.3" height="1.3" fill="#419adf"/>
<rect x="37" y="82" width="5.3" height="1.3" fill="#3884d6"/>
<rect x="42" y="82" width="8.3" height="1.3" fill="#2f6dcb"/>
<rect x="50" y="82" width="4.3" height="1.3" fill="#3884d6"/>
<rect x="54" y="82" width="11.3" height="1.3" fill="#2f6dcb"/>
<rect x="65" y="82" width="16.3" height="1.3" fill="#285bc0"/>
<rect x="81" y="82" width="22.3" height="1.3" fill="#244fb4"/>
<rect x="103" y="82" width="29.3" height="1.3" fill="#2246aa"/>
<rect x="0" y="83" width="7.3" height="1.3" fill="#3884d6"/>
<rect x="7" y="83" width="17.3" height="1.3" fill="#419adf"/>
<rect x="24" y="83" width="7.3" height="1.3" fill="#3884d6"/>
<rect x="31" y="83" width="8.3" height="1.3" fill="#419adf"/>
<rect x="39" y="83" width="3.3" height="1.3" fill="#3884d6"/>
<rect x="42" y="83" width="8.3" height="1.3" fill="#2f6dcb"/>
<rect x="50" y="83" width="4.3" height="1.3" fill="#3884d6"/>
<rect x="54" y="83" width="11.3" height="1.3" fill="#2f6dcb"/>
<rect x="65" y="83" width="16.3" height="1.3" fill="#285bc0"/>
<rect x="81" y="83" width="22.3" height="1.3" fill="#244fb4"/>
<rect x="103" y="83" width="29.3" height="1.3" fill="#2246aa"/>
<rect x="0" y="84" width="5.3" height="1.3" fill="#3884d6"/>
<rect x="5" y="84" width="10.3" height="1.3" fill="#419adf"/>
<rect x="15" y="84" width="4.3" height="1.3" fill="#4ab0e8"/>
<rect x="19" y="84" width="6.3" height="1.3" fill="#419adf"/>
<rect x="25" y="84" width="5.3" height="1.3" fill="#3884d6"/>
<rect x="30" y="84" width="4.3" height="1.3" fill="#419adf"/>
<rect x="34" y="84" width="3.3" height="1.3" fill="#4ab0e8"/>
<rect x="37" y="84" width="2.3" height="1.3" fill="#419adf"/>
<rect x="39" y="84" width="3.3" height="1.3" fill="#3884d6"/>
<rect x="42" y="84" width="8.3" height="1.3" fill="#2f6dcb"/>
<rect x="50" y="84" width="4.3" height="1.3" fill="#3884d6"/>
<rect x="54" y="84" width="11.3" height="1.3" fill="#2f6dcb"/>
<rect x="65" y="84" width="16.3" height="1.3" fill="#285bc0"/>
<rect x="81" y="84" width="22.3" height="1.3" fill="#244fb4"/>
<rect x="103" y="84" width="29.3" height="1.3" fill="#2246aa"/>
<rect x="0" y="85" width="3.3" height="1.3" fill="#3884d6"/>
<rect x="3" y="85" width="6.3" height="1.3" fill="#419adf"/>
<rect x="9" y="85" width="11.3" height="1.3" fill="#4ab0e8"/>
<rect x="20" y="85" width="6.3" height="1.3" fill="#419adf"/>
<rect x="26" y="85" width="2.3" height="1.3" fill="#3884d6"/>
<rect x="28" y="85" width="5.3" height="1.3" fill="#419adf"/>
<rect x="33" y="85" width="5.3" height="1.3" fill="#4ab0e8"/>
<rect x="38" y="85" width="2.3" height="1.3" fill="#419adf"/>
<rect x="40" y="85" width="2.3" height="1.3" fill="#3884d6"/>
<rect x="42" y="85" width="8.3" height="1.3" fill="#2f6dcb"/>
<rect x="50" y="85" width="4.3" height="1.3" fill="#3884d6"/>
<rect x="54" y="85" width="11.3" height="1.3" fill="#2f6dcb"/>
<rect x="65" y="85" width="16.3" height="1.3" fill="#285bc0"/>
<rect x="81" y="85" width="22.3" height="1.3" fill="#244fb4"/>
<rect x="103" y="85" width="29.3" height="1.3" fill="#2246aa"/>
<rect x="0" y="86" width="1.3" height="1.3" fill="#3884d6"/>
<rect x="1" y="86" width="5.3" height="1.3" fill="#419adf"/>
<rect x="6" y="86" width="15.3" height="1.3" fill="#4ab0e8"/>
<rect x="21" y="86" width="12.3" height="1.3" fill="#419adf"/>
<rect x="33" y="86" width="2.3" height="1.3" fill="#4ab0e8"/>
<rect x="35" y="86" width="1.3" height="1.3" fill="#55b8e4"/>
<rect x="36" y="86" width="2.3" height="1.3" fill="#4ab0e8"/>
<rect x="38" y="86" width="2.3" height="1.3" fill="#419adf"/>
<rect x="40" y="86" width="2.3" height="1.3" fill="#3884d6"/>
<rect x="42" y="86" width="8.3" height="1.3" fill="#2f6dcb"/>
<rect x="50" y="86" width="4.3" height="1.3" fill="#3884d6"/>
<rect x="54" y="86" width="11.3" height="1.3" fill="#2f6dcb"/>
<rect x="65" y="86" width="16.3" height="1.3" fill="#285bc0"/>
<rect x="81" y="86" width="22.3" height="1.3" fill="#244fb4"/>
<rect x="103" y="86" width="29.3" height="1.3" fill="#2246aa"/>
<rect x="0" y="87" width="5.3" height="1.3" fill="#419adf"/>
<rect x="5" y="87" width="10.3" height="1.3" fill="#4ab0e8"/>
<rect x="15" y="87" width="3.3" height="1.3" fill="#55b8e4"/>
<rect x="18" y="87" width="4.3" height="1.3" fill="#4ab0e8"/>
<rect x="22" y="87" width="10.3" height="1.3" fill="#419adf"/>
<rect x="32" y="87" width="3.3" height="1.3" fill="#4ab0e8"/>
<rect x="35" y="87" width="1.3" height="1.3" fill="#55b8e4"/>
<rect x="36" y="87" width="2.3" height="1.3" fill="#4ab0e8"/>
<rect x="38" y="87" width="2.3" height="1.3" fill="#419adf"/>
<rect x="40" y="87" width="3.3" height="1.3" fill="#3884d6"/>
<rect x="43" y="87" width="7.3" height="1.3" fill="#2f6dcb"/>
<rect x="50" y="87" width="4.3" height="1.3" fill="#3884d6"/>
<rect x="54" y="87" width="11.3" height="1.3" fill="#2f6dcb"/>
<rect x="65" y="87" width="16.3" height="1.3" fill="#285bc0"/>
<rect x="81" y="87" width="22.3" height="1.3" fill="#244fb4"/>
<rect x="103" y="87" width="29.3" height="1.3" fill="#2246aa"/>
<rect x="0" y="88" width="3.3" height="1.3" fill="#419adf"/>
<rect x="3" y="88" width="5.3" height="1.3" fill="#4ab0e8"/>
<rect x="8" y="88" width="11.3" height="1.3" fill="#55b8e4"/>
<rect x="19" y="88" width="4.3" height="1.3" fill="#4ab0e8"/>
<rect x="23" y="88" width="10.3" height="1.3" fill="#419adf"/>
<rect x="33" y="88" width="5.3" height="1.3" fill="#4ab0e8"/>
<rect x="38" y="88" width="2.3" height="1.3" fill="#419adf"/>
<rect x="40" y="88" width="3.3" height="1.3" fill="#3884d6"/>
<rect x="43" y="88" width="7.3" height="1.3" fill="#2f6dcb"/>
<rect x="50" y="88" width="4.3" height="1.3" fill="#3884d6"/>
<rect x="54" y="88" width="11.3" height="1.3" fill="#2f6dcb"/>
<rect x="65" y="88" width="16.3" height="1.3" fill="#285bc0"/>
<rect x="81" y="88" width="22.3" height="1.3" fill="#244fb4"/>
<rect x="103" y="88" width="29.3" height="1.3" fill="#2246aa"/>
<rect x="0" y="89" width="2.3" height="1.3" fill="#419adf"/>
<rect x="2" y="89" width="4.3" height="1.3" fill="#4ab0e8"/>
<rect x="6" y="89" width="14.3" height="1.3" fill="#55b8e4"/>
<rect x="20" y="89" width="4.3" height="1.3" fill="#4ab0e8"/>
<rect x="24" y="89" width="9.3" height="1.3" fill="#419adf"/>
<rect x="33" y="89" width="4.3" height="1.3" fill="#4ab0e8"/>
<rect x="37" y="89" width="3.3" height="1.3" fill="#419adf"/>
<rect x="40" y="89" width="3.3" height="1.3" fill="#3884d6"/>
<rect x="43" y="89" width="7.3" height="1.3" fill="#2f6dcb"/>
<rect x="50" y="89" width="4.3" height="1.3" fill="#3884d6"/>
<rect x="54" y="89" width="11.3" height="1.3" fill="#2f6dcb"/>
<rect x="65" y="89" width="16.3" height="1.3" fill="#285bc0"/>
<rect x="81" y="89" width="22.3" height="1.3" fill="#244fb4"/>
<rect x="103" y="89" width="29.3" height="1.3" fill="#2246aa"/>
<rect x="0" y="90" width="1.3" height="1.3" fill="#419adf"/>
<rect x="1" y="90" width="4.3" height="1.3" fill="#4ab0e8"/>
<rect x="5" y="90" width="16.3" height="1.3" fill="#55b8e4"/>
<rect x="21" y="90" width="3.3" height="1.3" fill="#4ab0e8"/>
<rect x="24" y="90" width="15.3" height="1.3" fill="#419adf"/>
<rect x="39" y="90" width="3.3" height="1.3" fill="#3884d6"/>
<rect x="42" y="90" width="22.3" height="1.3" fill="#2f6dcb"/>
<rect x="64" y="90" width="16.3" height="1.3" fill="#285bc0"/>
<rect x="80" y="90" width="23.3" height="1.3" fill="#244fb4"/>
<rect x="103" y="90" width="29.3" height="1.3" fill="#2246aa"/>
<rect x="0" y="91" width="4.3" height="1.3" fill="#4ab0e8"/>
<rect x="4" y="91" width="4.3" height="1.3" fill="#55b8e4"/>
<rect x="8" y="91" width="10.3" height="1.3" fill="#60c0e0"/>
<rect x="18" y="91" width="3.3" height="1.3" fill="#55b8e4"/>
<rect x="21" y="91" width="3.3" height="1.3" fill="#4ab0e8"/>
<rect x="24" y="91" width="13.3" height="1.3" fill="#419adf"/>
<rect x="37" y="91" width="4.3" height="1.3" fill="#3884d6"/>
<rect x="41" y="91" width="22.3" height="1.3" fill="#2f6dcb"/>
<rect x="63" y="91" width="16.3" height="1.3" fill="#285bc0"/>
<rect x="79" y="91" width="24.3" height="1.3" fill="#244fb4"/>
<rect x="103" y="91" width="29.3" height="1.3" fill="#2246aa"/>
<rect x="0" y="92" width="3.3" height="1.3" fill="#4ab0e8"/>
<rect x="3" y="92" width="4.3" height="1.3" fill="#55b8e4"/>
<rect x="7" y="92" width="12.3" height="1.3" fill="#60c0e0"/>
<rect x="19" y="92" width="3.3" height="1.3" fill="#55b8e4"/>
<rect x="22" y="92" width="3.3" height="1.3" fill="#4ab0e8"/>
<rect x="25" y="92" width="10.3" height="1.3" fill="#419adf"/>
<rect x="35" y="92" width="5.3" height="1.3" fill="#3884d6"/>
<rect x="40" y="92" width="22.3" height="1.3" fill="#2f6dcb"/>
<rect x="62" y="92" width="16.3" height="1.3" fill="#285bc0"/>
<rect x="78" y="92" width="25.3" height="1.3" fill="#244fb4"/>
<rect x="103" y="92" width="29.3" height="1.3" fill="#2246aa"/>
<rect x="0" y="93" width="2.3" height="1.3" fill="#4ab0e8"/>
<rect x="2" y="93" width="3.3" height="1.3" fill="#55b8e4"/>
<rect x="5" y="93" width="15.3" height="1.3" fill="#60c0e0"/>
<rect x="20" y="93" width="2.3" height="1.3" fill="#55b8e4"/>
<rect x="22" y="93" width="3.3" height="1.3" fill="#4ab0e8"/>
<rect x="25" y="93" width="7.3" height="1.3" fill="#419adf"/>
<rect x="32" y="93" width="7.3" height="1.3" fill="#3884d6"/>
<rect x="39" y="93" width="22.3" height="1.3" fill="#2f6dcb"/>
<rect x="61" y="93" width="16.3" height="1.3" fill="#285bc0"/>
<rect x="77" y="93" width="26.3" height="1.3" fill="#244fb4"/>
<rect x="103" y="93" width="29.3" height="1.3" fill="#2246aa"/>
<rect x="0" y="94" width="1.3" height="1.3" fill="#4ab0e8"/>
<rect x="1" y="94" width="3.3" height="1.3" fill="#55b8e4"/>
<rect x="4" y="94" width="4.3" height="1.3" fill="#60c0e0"/>
<rect x="8" y="94" width="10.3" height="1.3" fill="#64c2da"/>
<rect x="18" y="94" width="2.3" height="1.3" fill="#60c0e0"/>
<rect x="20" y="94" width="3.3" height="1.3" fill="#55b8e4"/>
<rect x="23" y="94" width="2.3" height="1.3" fill="#4ab0e8"/>
<rect x="25" y="94" width="5.3" height="1.3" fill="#419adf"/>
<rect x="30" y="94" width="8.3" height="1.3" fill="#3884d6"/>
<rect x="38" y="94" width="20.3" height="1.3" fill="#2f6dcb"/>
<rect x="58" y="94" width="18.3" height="1.3" fill="#285bc0"/>
<rect x="76" y="94" width="27.3" height="1.3" fill="#244fb4"/>
<rect x="103" y="94" width="29.3" height="1.3" fill="#2246aa"/>
<rect x="0" y="95" width="4.3" height="1.3" fill="#55b8e4"/>
<rect x="4" y="95" width="3.3" height="1.3" fill="#60c0e0"/>
<rect x="7" y="95" width="12.3" height="1.3" fill="#64c2da"/>
<rect x="19" y="95" width="2.3" height="1.3" fill="#60c0e0"/>
<rect x="21" y="95" width="2.3" height="1.3" fill="#55b8e4"/>
<rect x="23" y="95" width="2.3" height="1.3" fill="#4ab0e8"/>
<rect x="25" y="95" width="5.3" height="1.3" fill="#419adf"/>
<rect x="30" y="95" width="6.3" height="1.3" fill="#3884d6"/>
<rect x="36" y="95" width="7.3" height="1.3" fill="#2f6dcb"/>
<rect x="43" y="95" width="5.3" height="1.3" fill="#285bc0"/>
<rect x="48" y="95" width="7.3" height="1.3" fill="#2f6dcb"/>
<rect x="55" y="95" width="20.3" height="1.3" fill="#285bc0"/>
<rect x="75" y="95" width="28.3" height="1.3" fill="#244fb4"/>
<rect x="103" y="95" width="29.3" height="1.3" fill="#2246aa"/>
<rect x="0" y="96" width="3.3" height="1.3" fill="#55b8e4"/>
<rect x="3" y="96" width="3.3" height="1.3" fill="#60c0e0"/>
<rect x="6" y="96" width="13.3" height="1.3" fill="#64c2da"/>
<rect x="19" y="96" width="2.3" height="1.3" fill="#60c0e0"/>
<rect x="21" y="96" width="2.3" height="1.3" fill="#55b8e4"/>
<rect x="23" y="96" width="2.3" height="1.3" fill="#4ab0e8"/>
<rect x="25" y="96" width="4.3" height="1.3" fill="#419adf"/>
<rect x="29" y="96" width="6.3" height="1.3" fill="#3884d6"/>
<rect x="35" y="96" width="7.3" height="1.3" fill="#2f6dcb"/>
<rect x="42" y="96" width="33.3" height="1.3" fill="#285bc0"/>
<rect x="75" y="96" width="28.3" height="1.3" fill="#244fb4"/>
<rect x="103" y="96" width="29.3" height="1.3" fill="#2246aa"/>
<rect x="0" y="97" width="2.3" height="1.3" fill="#55b8e4"/>
<rect x="2" y="97" width="3.3" height="1.3" fill="#60c0e0"/>
<rect x="5" y="97" width="3.3" height="1.3" fill="#64c2da"/>
<rect x="8" y="97" width="10.3" height="1.3" fill="#68c4d4"/>
<rect x="18" y="97" width="2.3" height="1.3" fill="#64c2da"/>
<rect x="20" y="97" width="2.3" height="1.3" fill="#60c0e0"/>
<rect x="22" y="97" width="2.3" height="1.3" fill="#55b8e4"/>
<rect x="24" y="97" width="2.3" height="1.3" fill="#4ab0e8"/>
<rect x="26" y="97" width="3.3" height="1.3" fill="#419adf"/>
<rect x="29" y="97" width="4.3" height="1.3" fill="#3884d6"/>
<rect x="33" y="97" width="8.3" height="1.3" fill="#2f6dcb"/>
<rect x="41" y="97" width="33.3" height="1.3" fill="#285bc0"/>
<rect x="74" y="97" width="29.3" height="1.3" fill="#244fb4"/>
<rect x="103" y="97" width="29.3" height="1.3" fill="#2246aa"/>
<rect x="0" y="98" width="1.3" height="1.3" fill="#55b8e4"/>
<rect x="1" y="98" width="3.3" height="1.3" fill="#60c0e0"/>
<rect x="4" y="98" width="3.3" height="1.3" fill="#64c2da"/>
<rect x="7" y="98" width="11.3" height="1.3" fill="#68c4d4"/>
<rect x="18" y="98" width="2.3" height="1.3" fill="#64c2da"/>
<rect x="20" y="98" width="2.3" height="1.3" fill="#60c0e0"/>
<rect x="22" y="98" width="2.3" height="1.3" fill="#55b8e4"/>
<rect x="24" y="98" width="2.3" height="1.3" fill="#4ab0e8"/>
<rect x="26" y="98" width="3.3" height="1.3" fill="#419adf"/>
<rect x="29" y="98" width="4.3" height="1.3" fill="#3884d6"/>
<rect x="33" y="98" width="6.3" height="1.3" fill="#2f6dcb"/>
<rect x="39" y="98" width="34.3" height="1.3" fill="#285bc0"/>
<rect x="73" y="98" width="30.3" height="1.3" fill="#244fb4"/>
<rect x="103" y="98" width="29.3" height="1.3" fill="#2246aa"/>
<rect x="0" y="99" width="3.3" height="1.3" fill="#60c0e0"/>
<rect x="3" y="99" width="4.3" height="1.3" fill="#64c2da"/>
<rect x="7" y="99" width="11.3" height="1.3" fill="#68c4d4"/>
<rect x="18" y="99" width="2.3" height="1.3" fill="#64c2da"/>
<rect x="20" y="99" width="2.3" height="1.3" fill="#60c0e0"/>
<rect x="22" y="99" width="2.3" height="1.3" fill="#55b8e4"/>
<rect x="24" y="99" width="2.3" height="1.3" fill="#4ab0e8"/>
<rect x="26" y="99" width="3.3" height="1.3" fill="#419adf"/>
<rect x="29" y="99" width="3.3" height="1.3" fill="#3884d6"/>
<rect x="32" y="99" width="6.3" height="1.3" fill="#2f6dcb"/>
<rect x="38" y="99" width="34.3" height="1.3" fill="#285bc0"/>
<rect x="72" y="99" width="31.3" height="1.3" fill="#244fb4"/>
<rect x="103" y="99" width="28.3" height="1.3" fill="#2246aa"/>
<rect x="131" y="99" width="1.3" height="1.3" fill="#2142a5"/>
<rect x="0" y="100" width="2.3" height="1.3" fill="#60c0e0"/>
<rect x="2" y="100" width="4.3" height="1.3" fill="#64c2da"/>
<rect x="6" y="100" width="12.3" height="1.3" fill="#68c4d4"/>
<rect x="18" y="100" width="1.3" height="1.3" fill="#64c2da"/>
<rect x="19" y="100" width="2.3" height="1.3" fill="#60c0e0"/>
<rect x="21" y="100" width="2.3" height="1.3" fill="#55b8e4"/>
<rect x="23" y="100" width="2.3" height="1.3" fill="#4ab0e8"/>
<rect x="25" y="100" width="3.3" height="1.3" fill="#419adf"/>
<rect x="28" y="100" width="4.3" height="1.3" fill="#3884d6"/>
<rect x="32" y="100" width="6.3" height="1.3" fill="#2f6dcb"/>
<rect x="38" y="100" width="34.3" height="1.3" fill="#285bc0"/>
<rect x="72" y="100" width="31.3" height="1.3" fill="#244fb4"/>
<rect x="103" y="100" width="24.3" height="1.3" fill="#2246aa"/>
<rect x="127" y="100" width="5.3" height="1.3" fill="#2142a5"/>
<rect x="0" y="101" width="1.3" height="1.3" fill="#60c0e0"/>
<rect x="1" y="101" width="4.3" height="1.3" fill="#64c2da"/>
<rect x="5" y="101" width="11.3" height="1.3" fill="#68c4d4"/>
<rect x="16" y="101" width="3.3" height="1.3" fill="#64c2da"/>
<rect x="19" y="101" width="2.3" height="1.3" fill="#60c0e0"/>
<rect x="21" y="101" width="2.3" height="1.3" fill="#55b8e4"/>
<rect x="23" y="101" width="2.3" height="1.3" fill="#4ab0e8"/>
<rect x="25" y="101" width="3.3" height="1.3" fill="#419adf"/>
<rect x="28" y="101" width="4.3" height="1.3" fill="#3884d6"/>
<rect x="32" y="101" width="6.3" height="1.3" fill="#2f6dcb"/>
<rect x="38" y="101" width="34.3" height="1.3" fill="#285bc0"/>
<rect x="72" y="101" width="31.3" height="1.3" fill="#244fb4"/>
<rect x="103" y="101" width="22.3" height="1.3" fill="#2246aa"/>
<rect x="125" y="101" width="7.3" height="1.3" fill="#2142a5"/>
<rect x="0" y="102" width="3.3" height="1.3" fill="#64c2da"/>
<rect x="3" y="102" width="5.3" height="1.3" fill="#68c4d4"/>
<rect x="8" y="102" width="2.3" height="1.3" fill="#72c6c2"/>
<rect x="10" y="102" width="5.3" height="1.3" fill="#68c4d4"/>
<rect x="15" y="102" width="4.3" height="1.3" fill="#64c2da"/>
<rect x="19" y="102" width="2.3" height="1.3" fill="#60c0e0"/>
<rect x="21" y="102" width="2.3" height="1.3" fill="#55b8e4"/>
<rect x="23" y="102" width="2.3" height="1.3" fill="#4ab0e8"/>
<rect x="25" y="102" width="3.3" height="1.3" fill="#419adf"/>
<rect x="28" y="102" width="4.3" height="1.3" fill="#3884d6"/>
<rect x="32" y="102" width="6.3" height="1.3" fill="#2f6dcb"/>
<rect x="38" y="102" width="34.3" height="1.3" fill="#285bc0"/>
<rect x="72" y="102" width="31.3" height="1.3" fill="#244fb4"/>
<rect x="103" y="102" width="19.3" height="1.3" fill="#2246aa"/>
<rect x="122" y="102" width="10.3" height="1.3" fill="#2142a5"/>
<rect x="0" y="103" width="2.3" height="1.3" fill="#64c2da"/>
<rect x="2" y="103" width="5.3" height="1.3" fill="#68c4d4"/>
<rect x="7" y="103" width="3.3" height="1.3" fill="#72c6c2"/>
<rect x="10" y="103" width="4.3" height="1.3" fill="#68c4d4"/>
<rect x="14" y="103" width="4.3" height="1.3" fill="#64c2da"/>
<rect x="18" y="103" width="2.3" height="1.3" fill="#60c0e0"/>
<rect x="20" y="103" width="2.3" height="1.3" fill="#55b8e4"/>
<rect x="22" y="103" width="3.3" height="1.3" fill="#4ab0e8"/>
<rect x="25" y="103" width="3.3" height="1.3" fill="#419adf"/>
<rect x="28" y="103" width="4.3" height="1.3" fill="#3884d6"/>
<rect x="32" y="103" width="6.3" height="1.3" fill="#2f6dcb"/>
<rect x="38" y="103" width="34.3" height="1.3" fill="#285bc0"/>
<rect x="72" y="103" width="31.3" height="1.3" fill="#244fb4"/>
<rect x="103" y="103" width="17.3" height="1.3" fill="#2246aa"/>
<rect x="120" y="103" width="12.3" height="1.3" fill="#2142a5"/>
<rect x="0" y="104" width="6.3" height="1.3" fill="#68c4d4"/>
<rect x="6" y="104" width="5.3" height="1.3" fill="#72c6c2"/>
<rect x="11" y="104" width="3.3" height="1.3" fill="#68c4d4"/>
<rect x="14" y="104" width="3.3" height="1.3" fill="#64c2da"/>
<rect x="17" y="104" width="3.3" height="1.3" fill="#60c0e0"/>
<rect x="20" y="104" width="2.3" height="1.3" fill="#55b8e4"/>
<rect x="22" y="104" width="2.3" height="1.3" fill="#4ab0e8"/>
<rect x="24" y="104" width="3.3" height="1.3" fill="#419adf"/>
<rect x="27" y="104" width="5.3" height="1.3" fill="#3884d6"/>
<rect x="32" y="104" width="6.3" height="1.3" fill="#2f6dcb"/>
<rect x="38" y="104" width="34.3" height="1.3" fill="#285bc0"/>
<rect x="72" y="104" width="31.3" height="1.3" fill="#244fb4"/>
<rect x="103" y="104" width="15.3" height="1.3" fill="#2246aa"/>
<rect x="118" y="104" width="14.3" height="1.3" fill="#2142a5"/>
<rect x="0" y="105" width="4.3" height="1.3" fill="#68c4d4"/>
<rect x="4" y="105" width="7.3" height="1.3" fill="#72c6c2"/>
<rect x="11" y="105" width="3.3" height="1.3" fill="#68c4d4"/>
<rect x="14" y="105" width="3.3" height="1.3" fill="#64c2da"/>
<rect x="17" y="105" width="2.3" height="1.3" fill="#60c0e0"/>
<rect x="19" y="105" width="3.3" height="1.3" fill="#55b8e4"/>
<rect x="22" y="105" width="2.3" height="1.3" fill="#4ab0e8"/>
<rect x="24" y="105" width="3.3" height="1.3" fill="#419adf"/>
<rect x="27" y="105" width="5.3" height="1.3" fill="#3884d6"/>
<rect x="32" y="105" width="6.3" height="1.3" fill="#2f6dcb"/>
<rect x="38" y="105" width="34.3" height="1.3" fill="#285bc0"/>
<rect x="72" y="105" width="31.3" height="1.3" fill="#244fb4"/>
<rect x="103" y="105" width="14.3" height="1.3" fill="#2246aa"/>
<rect x="117" y="105" width="13.3" height="1.3" fill="#2142a5"/>
<rect x="130" y="105" width="2.3" height="1.3" fill="#203ea0"/>
<rect x="0" y="106" width="1.3" height="1.3" fill="#68c4d4"/>
<rect x="1" y="106" width="10.3" height="1.3" fill="#72c6c2"/>
<rect x="11" y="106" width="3.3" height="1.3" fill="#68c4d4"/>
<rect x="14" y="106" width="2.3" height="1.3" fill="#64c2da"/>
<rect x="16" y="106" width="3.3" height="1.3" fill="#60c0e0"/>
<rect x="19" y="106" width="2.3" height="1.3" fill="#55b8e4"/>
<rect x="21" y="106" width="3.3" height="1.3" fill="#4ab0e8"/>
<rect x="24" y="106" width="2.3" height="1.3" fill="#419adf"/>
<rect x="26" y="106" width="5.3" height="1.3" fill="#3884d6"/>
<rect x="31" y="106" width="7.3" height="1.3" fill="#2f6dcb"/>
<rect x="38" y="106" width="34.3" height="1.3" fill="#285bc0"/>
<rect x="72" y="106" width="31.3" height="1.3" fill="#244fb4"/>
<rect x="103" y="106" width="13.3" height="1.3" fill="#2246aa"/>
<rect x="116" y="106" width="12.3" height="1.3" fill="#2142a5"/>
<rect x="128" y="106" width="4.3" height="1.3" fill="#203ea0"/>
<rect x="0" y="107" width="8.3" height="1.3" fill="#72c6c2"/>
<rect x="8" y="107" width="1.3" height="1.3" fill="#7dcab0"/>
<rect x="9" y="107" width="2.3" height="1.3" fill="#72c6c2"/>
<rect x="11" y="107" width="2.3" height="1.3" fill="#68c4d4"/>
<rect x="13" y="107" width="3.3" height="1.3" fill="#64c2da"/>
<rect x="16" y="107" width="2.3" height="1.3" fill="#60c0e0"/>
<rect x="18" y="107" width="3.3" height="1.3" fill="#55b8e4"/>
<rect x="21" y="107" width="2.3" height="1.3" fill="#4ab0e8"/>
<rect x="23" y="107" width="3.3" height="1.3" fill="#419adf"/>
<rect x="26" y="107" width="5.3" height="1.3" fill="#3884d6"/>
<rect x="31" y="107" width="7.3" height="1.3" fill="#2f6dcb"/>
<rect x="38" y="107" width="34.3" height="1.3" fill="#285bc0"/>
<rect x="72" y="107" width="31.3" height="1.3" fill="#244fb4"/>
<rect x="103" y="107" width="12.3" height="1.3" fill="#2246aa"/>
<rect x="115" y="107" width="11.3" height="1.3" fill="#2142a5"/>
<rect x="126" y="107" width="6.3" height="1.3" fill="#203ea0"/>
<rect x="0" y="108" width="11.3" height="1.3" fill="#72c6c2"/>
<rect x="11" y="108" width="2.3" height="1.3" fill="#68c4d4"/>
<rect x="13" y="108" width="2.3" height="1.3" fill="#64c2da"/>
<rect x="15" y="108" width="2.3" height="1.3" fill="#60c0e0"/>
<rect x="17" y="108" width="3.3" height="1.3" fill="#55b8e4"/>
<rect x="20" y="108" width="3.3" height="1.3" fill="#4ab0e8"/>
<rect x="23" y="108" width="3.3" height="1.3" fill="#419adf"/>
<rect x="26" y="108" width="5.3" height="1.3" fill="#3884d6"/>
<rect x="31" y="108" width="7.3" height="1.3" fill="#2f6dcb"/>
<rect x="38" y="108" width="34.3" height="1.3" fill="#285bc0"/>
<rect x="72" y="108" width="31.3" height="1.3" fill="#244fb4"/>
<rect x="103" y="108" width="12.3" height="1.3" fill="#2246aa"/>
<rect x="115" y="108" width="10.3" height="1.3" fill="#2142a5"/>
<rect x="125" y="108" width="7.3" height="1.3" fill="#203ea0"/>
<rect x="0" y="109" width="10.3" height="1.3" fill="#72c6c2"/>
<rect x="10" y="109" width="2.3" height="1.3" fill="#68c4d4"/>
<rect x="12" y="109" width="3.3" height="1.3" fill="#64c2da"/>
<rect x="15" y="109" width="2.3" height="1.3" fill="#60c0e0"/>
<rect x="17" y="109" width="3.3" height="1.3" fill="#55b8e4"/>
<rect x="20" y="109" width="3.3" height="1.3" fill="#4ab0e8"/>
<rect x="23" y="109" width="3.3" height="1.3" fill="#419adf"/>
<rect x="26" y="109" width="5.3" height="1.3" fill="#3884d6"/>
<rect x="31" y="109" width="7.3" height="1.3" fill="#2f6dcb"/>
<rect x="38" y="109" width="34.3" height="1.3" fill="#285bc0"/>
<rect x="72" y="109" width="31.3" height="1.3" fill="#244fb4"/>
<rect x="103" y="109" width="11.3" height="1.3" fill="#2246aa"/>
<rect x="114" y="109" width="10.3" height="1.3" fill="#2142a5"/>
<rect x="124" y="109" width="8.3" height="1.3" fill="#203ea0"/>
<rect x="0" y="110" width="3.3" height="1.3" fill="#7dcab0"/>
<rect x="3" y="110" width="7.3" height="1.3" fill="#72c6c2"/>
<rect x="10" y="110" width="2.3" height="1.3" fill="#68c4d4"/>
<rect x="12" y="110" width="2.3" height="1.3" fill="#64c2da"/>
<rect x="14" y="110" width="3.3" height="1.3" fill="#60c0e0"/>
<rect x="17" y="110" width="3.3" height="1.3" fill="#55b8e4"/>
<rect x="20" y="110" width="3.3" height="1.3" fill="#4ab0e8"/>
<rect x="23" y="110" width="3.3" height="1.3" fill="#419adf"/>
<rect x="26" y="110" width="5.3" height="1.3" fill="#3884d6"/>
<rect x="31" y="110" width="7.3" height="1.3" fill="#2f6dcb"/>
<rect x="38" y="110" width="34.3" height="1.3" fill="#285bc0"/>
<rect x="72" y="110" width="32.3" height="1.3" fill="#244fb4"/>
<rect x="104" y="110" width="10.3" height="1.3" fill="#2246aa"/>
<rect x="114" y="110" width="9.3" height="1.3" fill="#2142a5"/>
<rect x="123" y="110" width="9.3" height="1.3" fill="#203ea0"/>
<rect x="0" y="111" width="4.3" height="1.3" fill="#7dcab0"/>
<rect x="4" y="111" width="5.3" height="1.3" fill="#72c6c2"/>
<rect x="9" y="111" width="2.3" height="1.3" fill="#68c4d4"/>
<rect x="11" y="111" width="3.3" height="1.3" fill="#64c2da"/>
<rect x="14" y="111" width="2.3" height="1.3" fill="#60c0e0"/>
<rect x="16" y="111" width="3.3" height="1.3" fill="#55b8e4"/>
<rect x="19" y="111" width="4.3" height="1.3" fill="#4ab0e8"/>
<rect x="23" y="111" width="3.3" height="1.3" fill="#419adf"/>
<rect x="26" y="111" width="5.3" height="1.3" fill="#3884d6"/>
<rect x="31" y="111" width="7.3" height="1.3" fill="#2f6dcb"/>
<rect x="38" y="111" width="34.3" height="1.3" fill="#285bc0"/>
<rect x="72" y="111" width="32.3" height="1.3" fill="#244fb4"/>
<rect x="104" y="111" width="9.3" height="1.3" fill="#2246aa"/>
<rect x="113" y="111" width="9.3" height="1.3" fill="#2142a5"/>
<rect x="122" y="111" width="10.3" height="1.3" fill="#203ea0"/>
<rect x="0" y="112" width="4.3" height="1.3" fill="#7dcab0"/>
<rect x="4" y="112" width="4.3" height="1.3" fill="#72c6c2"/>
<rect x="8" y="112" width="3.3" height="1.3" fill="#68c4d4"/>
<rect x="11" y="112" width="2.3" height="1.3" fill="#64c2da"/>
<rect x="13" y="112" width="3.3" height="1.3" fill="#60c0e0"/>
<rect x="16" y="112" width="3.3" height="1.3" fill="#55b8e4"/>
<rect x="19" y="112" width="3.3" height="1.3" fill="#4ab0e8"/>
<rect x="22" y="112" width="4.3" height="1.3" fill="#419adf"/>
<rect x="26" y="112" width="5.3" height="1.3" fill="#3884d6"/>
<rect x="31" y="112" width="7.3" height="1.3" fill="#2f6dcb"/>
<rect x="38" y="112" width="34.3" height="1.3" fill="#285bc0"/>
<rect x="72" y="112" width="32.3" height="1.3" fill="#244fb4"/>
<rect x="104" y="112" width="9.3" height="1.3" fill="#2246aa"/>
<rect x="113" y="112" width="9.3" height="1.3" fill="#2142a5"/>
<rect x="122" y="112" width="10.3" height="1.3" fill="#203ea0"/>
<rect x="0" y="113" width="1.3" height="1.3" fill="#89ce9c"/>
<rect x="1" y="113" width="3.3" height="1.3" fill="#7dcab0"/>
<rect x="4" y="113" width="3.3" height="1.3" fill="#72c6c2"/>
<rect x="7" y="113" width="3.3" height="1.3" fill="#68c4d4"/>
<rect x="10" y="113" width="3.3" height="1.3" fill="#64c2da"/>
<rect x="13" y="113" width="3.3" height="1.3" fill="#60c0e0"/>
<rect x="16" y="113" width="3.3" height="1.3" fill="#55b8e4"/>
<rect x="19" y="113" width="3.3" height="1.3" fill="#4ab0e8"/>
<rect x="22" y="113" width="4.3" height="1.3" fill="#419adf"/>
<rect x="26" y="113" width="5.3" height="1.3" fill="#3884d6"/>
<rect x="31" y="113" width="7.3" height="1.3" fill="#2f6dcb"/>
<rect x="38" y="113" width="34.3" height="1.3" fill="#285bc0"/>
<rect x="72" y="113" width="32.3" height="1.3" fill="#244fb4"/>
<rect x="104" y="113" width="9.3" height="1.3" fill="#2246aa"/>
<rect x="113" y="113" width="8.3" height="1.3" fill="#2142a5"/>
<rect x="121" y="113" width="10.3" height="1.3" fill="#203ea0"/>
<rect x="131" y="113" width="1.3" height="1.3" fill="#1f399b"/>
<rect x="0" y="114" width="2.3" height="1.3" fill="#89ce9c"/>
<rect x="2" y="114" width="2.3" height="1.3" fill="#7dcab0"/>
<rect x="4" y="114" width="3.3" height="1.3" fill="#72c6c2"/>
<rect x="7" y="114" width="3.3" height="1.3" fill="#68c4d4"/>
<rect x="10" y="114" width="2.3" height="1.3" fill="#64c2da"/>
<rect x="12" y="114" width="3.3" height="1.3" fill="#60c0e0"/>
<rect x="15" y="114" width="3.3" height="1.3" fill="#55b8e4"/>
<rect x="18" y="114" width="4.3" height="1.3" fill="#4ab0e8"/>
<rect x="22" y="114" width="4.3" height="1.3" fill="#419adf"/>
<rect x="26" y="114" width="5.3" height="1.3" fill="#3884d6"/>
<rect x="31" y="114" width="7.3" height="1.3" fill="#2f6dcb"/>
<rect x="38" y="114" width="34.3" height="1.3" fill="#285bc0"/>
<rect x="72" y="114" width="32.3" height="1.3" fill="#244fb4"/>
<rect x="104" y="114" width="8.3" height="1.3" fill="#2246aa"/>
<rect x="112" y="114" width="8.3" height="1.3" fill="#2142a5"/>
<rect x="120" y="114" width="10.3" height="1.3" fill="#203ea0"/>
<rect x="130" y="114" width="2.3" height="1.3" fill="#1f399b"/>
<rect x="0" y="115" width="2.3" height="1.3" fill="#89ce9c"/>
<rect x="2" y="115" width="3.3" height="1.3" fill="#7dcab0"/>
<rect x="5" y="115" width="2.3" height="1.3" fill="#72c6c2"/>
<rect x="7" y="115" width="2.3" height="1.3" fill="#68c4d4"/>
<rect x="9" y="115" width="3.3" height="1.3" fill="#64c2da"/>
<rect x="12" y="115" width="3.3" height="1.3" fill="#60c0e0"/>
<rect x="15" y="115" width="3.3" height="1.3" fill="#55b8e4"/>
<rect x="18" y="115" width="4.3" height="1.3" fill="#4ab0e8"/>
<rect x="22" y="115" width="4.3" height="1.3" fill="#419adf"/>
<rect x="26" y="115" width="5.3" height="1.3" fill="#3884d6"/>
<rect x="31" y="115" width="7.3" height="1.3" fill="#2f6dcb"/>
<rect x="38" y="115" width="34.3" height="1.3" fill="#285bc0"/>
<rect x="72" y="115" width="32.3" height="1.3" fill="#244fb4"/>
<rect x="104" y="115" width="8.3" height="1.3" fill="#2246aa"/>
<rect x="112" y="115" width="8.3" height="1.3" fill="#2142a5"/>
<rect x="120" y="115" width="9.3" height="1.3" fill="#203ea0"/>
<rect x="129" y="115" width="3.3" height="1.3" fill="#1f399b"/>
<rect x="0" y="116" width="1.3" height="1.3" fill="#98d186"/>
<rect x="1" y="116" width="2.3" height="1.3" fill="#89ce9c"/>
<rect x="3" y="116" width="2.3" height="1.3" fill="#7dcab0"/>
<rect x="5" y="116" width="1.3" height="1.3" fill="#72c6c2"/>
<rect x="6" y="116" width="2.3" height="1.3" fill="#68c4d4"/>
<rect x="8" y="116" width="3.3" height="1.3" fill="#64c2da"/>
<rect x="11" y="116" width="3.3" height="1.3" fill="#60c0e0"/>
<rect x="14" y="116" width="3.3" height="1.3" fill="#55b8e4"/>
<rect x="17" y="116" width="4.3" height="1.3" fill="#4ab0e8"/>
<rect x="21" y="116" width="5.3" height="1.3" fill="#419adf"/>
<rect x="26" y="116" width="5.3" height="1.3" fill="#3884d6"/>
<rect x="31" y="116" width="7.3" height="1.3" fill="#2f6dcb"/>
<rect x="38" y="116" width="34.3" height="1.3" fill="#285bc0"/>
<rect x="72" y="116" width="32.3" height="1.3" fill="#244fb4"/>
<rect x="104" y="116" width="8.3" height="1.3" fill="#2246aa"/>
<rect x="112" y="116" width="7.3" height="1.3" fill="#2142a5"/>
<rect x="119" y="116" width="9.3" height="1.3" fill="#203ea0"/>
<rect x="128" y="116" width="4.3" height="1.3" fill="#1f399b"/>
</g>
<defs><radialGradient id="bl"><stop offset="0" stop-color="#d83018"/><stop offset="0.3" stop-color="#e8c038"/><stop offset="0.65" stop-color="#b0d060" stop-opacity="0.8"/><stop offset="1" stop-color="#80c8b0" stop-opacity="0"/></radialGradient><radialGradient id="tr"><stop offset="0" stop-color="#b01818"/><stop offset="0.3" stop-color="#e02020"/><stop offset="0.55" stop-color="#e89030"/><stop offset="0.8" stop-color="#e0d840" stop-opacity="0.7"/><stop offset="1" stop-color="#e0d840" stop-opacity="0"/></radialGradient></defs>
<circle cx="0.8" cy="115.4" r="5" fill="url(#bl)"/>
<circle cx="131.0" cy="0.5" r="6.5" fill="url(#tr)"/>
</svg>
<rect x="237.5" y="30.5" width="132" height="116" fill="none" stroke="#2a2a3a" stroke-width="1"/>
<path d="M237.5 85.3H240.0 M303.3 147.0V144.5" stroke="#5a5a5a" stroke-width="1"/>
<text x="218.33" y="34.00" font-size="12.9" textLength="16.18" lengthAdjust="spacingAndGlyphs">1.0</text>
<text x="218.09" y="89.20" font-size="12.9" textLength="15.81" lengthAdjust="spacingAndGlyphs">0.5</text>
<text x="234.68" y="160.70" font-size="12.9">0</text>
<text x="294.95" y="160.70" font-size="12.9" textLength="17.09" lengthAdjust="spacingAndGlyphs">0.5</text>
<text x="361.49" y="160.70" font-size="12.9" textLength="16.74" lengthAdjust="spacingAndGlyphs">1.0</text>
<text x="252.73" y="174.90" font-size="12.9" textLength="101.61" lengthAdjust="spacingAndGlyphs">Error of wind farm 1</text>
<text transform="translate(212.00,142.47) rotate(-90)" font-size="12.9" textLength="102.76" lengthAdjust="spacingAndGlyphs">Error of wind farm 2</text>
<rect x="222.6" y="180.2" width="154.1" height="7.8" fill="url(#cbg)"/>
<rect x="222.6" y="180.2" width="154.1" height="7.8" fill="none" stroke="#222" stroke-width="0.8"/>
<path d="M245.2 188.0v-1.8" stroke="#222" stroke-width="0.9"/>
<path d="M267.3 188.0v-1.8" stroke="#222" stroke-width="0.9"/>
<path d="M289.4 188.0v-1.8" stroke="#222" stroke-width="0.9"/>
<path d="M311.4 188.0v-1.8" stroke="#222" stroke-width="0.9"/>
<path d="M333.4 188.0v-1.8" stroke="#222" stroke-width="0.9"/>
<path d="M355.5 188.0v-1.8" stroke="#222" stroke-width="0.9"/>
<text x="219.97" y="201.60" font-size="12.9">0</text>
<text x="238.67" y="201.60" font-size="12.9">50</text>
<text x="257.30" y="201.60" font-size="12.9">100</text>
<text x="279.35" y="201.60" font-size="12.9">150</text>
<text x="301.69" y="201.60" font-size="12.9">200</text>
<text x="323.74" y="201.60" font-size="12.9">250</text>
<text x="345.76" y="201.60" font-size="12.9">300</text>
<text x="367.81" y="201.60" font-size="12.9">350</text>
<text x="256.73" y="218.40" font-size="12.9" textLength="96.52" lengthAdjust="spacingAndGlyphs">Number of samples</text>
<text x="243.96" y="238.00" font-size="15.0" font-weight="bold" textLength="20.03" lengthAdjust="spacingAndGlyphs">(b)</text>
<text x="266.09" y="238.10" font-size="12.9" textLength="88.79" lengthAdjust="spacingAndGlyphs">Spatial dependent</text>
<text x="234.91" y="251.50" font-size="12.9" textLength="137.41" lengthAdjust="spacingAndGlyphs">structure of two wind farms</text>
</svg></body></html>
